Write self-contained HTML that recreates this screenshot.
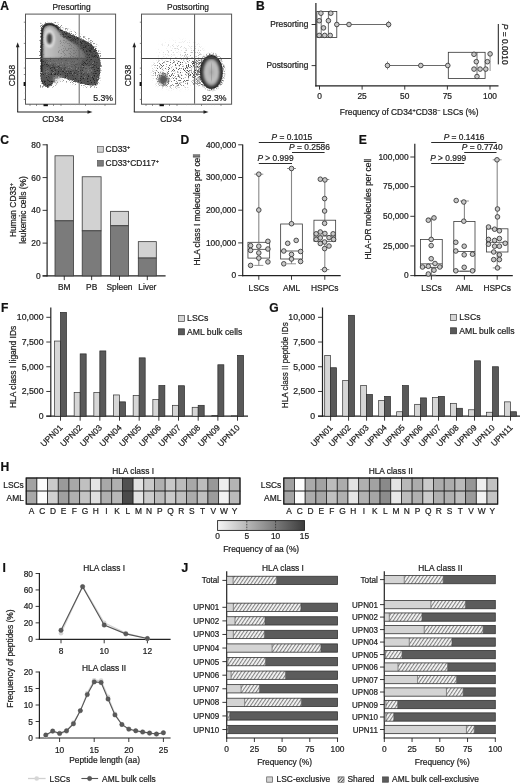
<!DOCTYPE html>
<html><head><meta charset="utf-8"><title>Figure</title>
<style>
html,body{margin:0;padding:0;background:#fff;}
body{width:520px;height:784px;overflow:hidden;}
svg{display:block;}
svg{font-family:"Liberation Sans",Arial,Helvetica,sans-serif;font-size:8.4px;fill:#1e1e1e;}
text{stroke:#1e1e1e;stroke-width:0.22px;}
</style></head><body>
<svg width="520" height="784" viewBox="0 0 520 784">
<defs><linearGradient id="cbar" x1="0" x2="1" y1="0" y2="0"><stop offset="0" stop-color="#f6f6f6"/><stop offset="1" stop-color="#3c3c3c"/></linearGradient><pattern id="hatch" width="2.95" height="12" patternUnits="userSpaceOnUse" patternTransform="rotate(34)"><rect width="2.95" height="12" fill="#f6f6f6"/><line x1="0.6" y1="0" x2="0.6" y2="12" stroke="#666" stroke-width="0.9"/></pattern><pattern id="hatch2" width="2.3" height="8" patternUnits="userSpaceOnUse" patternTransform="rotate(40)"><rect width="2.3" height="8" fill="#f0f0f0"/><line x1="0.5" y1="0" x2="0.5" y2="8" stroke="#444" stroke-width="0.9"/></pattern>
<filter id="b04" x="-20%" y="-20%" width="140%" height="140%"><feGaussianBlur stdDeviation="0.4"/></filter>
<filter id="b08" x="-20%" y="-20%" width="140%" height="140%"><feGaussianBlur stdDeviation="0.8"/></filter>
<filter id="b12" x="-30%" y="-30%" width="160%" height="160%"><feGaussianBlur stdDeviation="1.2"/></filter>
<filter id="b2" x="-30%" y="-30%" width="160%" height="160%"><feGaussianBlur stdDeviation="2"/></filter>
<filter id="grain" x="0" y="0" width="100%" height="100%">
 <feTurbulence type="fractalNoise" baseFrequency="1.1" numOctaves="2" seed="3" result="n"/>
 <feColorMatrix in="n" type="matrix" values="0 0 0 0 0  0 0 0 0 0  0 0 0 0 0  5 0 0 0 -2.1" result="na"/>
 <feComposite in="SourceGraphic" in2="na" operator="in"/>
</filter>
<filter id="grain2" x="0" y="0" width="100%" height="100%">
 <feTurbulence type="fractalNoise" baseFrequency="1.3" numOctaves="2" seed="7" result="n"/>
 <feColorMatrix in="n" type="matrix" values="0 0 0 0 0  0 0 0 0 0  0 0 0 0 0  6 0 0 0 -3.2" result="na"/>
 <feComposite in="SourceGraphic" in2="na" operator="in"/>
</filter>
<filter id="rough" x="-10%" y="-10%" width="120%" height="120%">
 <feTurbulence type="fractalNoise" baseFrequency="0.7" numOctaves="2" seed="5" result="t"/>
 <feDisplacementMap in="SourceGraphic" in2="t" scale="3" xChannelSelector="R" yChannelSelector="G"/>
</filter>
<filter id="sparse" x="0" y="0" width="100%" height="100%">
 <feTurbulence type="fractalNoise" baseFrequency="1.4" numOctaves="1" seed="11" result="n"/>
 <feColorMatrix in="n" type="matrix" values="0 0 0 0 0  0 0 0 0 0  0 0 0 0 0  9 0 0 0 -4.9" result="na"/>
 <feComposite in="SourceGraphic" in2="na" operator="in"/>
</filter>
<filter id="sparse2" x="0" y="0" width="100%" height="100%">
 <feTurbulence type="fractalNoise" baseFrequency="1.5" numOctaves="1" seed="23" result="n"/>
 <feColorMatrix in="n" type="matrix" values="0 0 0 0 0  0 0 0 0 0  0 0 0 0 0  9 0 0 0 -5.4" result="na"/>
 <feComposite in="SourceGraphic" in2="na" operator="in"/>
</filter>
<mask id="scatLow" maskUnits="userSpaceOnUse" x="140" y="30" width="70" height="70">
 <path d="M155 64 C165 58 185 57 199 59 L199 84 C188 88 172 88 160 86 C154 82 152 70 155 64 Z" fill="#ddd" filter="url(#b2)"/>
 <path d="M176 59.5 L199 59.5 L199 78 L180 74 Z" fill="#fff" filter="url(#b2)"/>
</mask>
<mask id="scatUp" maskUnits="userSpaceOnUse" x="140" y="20" width="80" height="50">
 <path d="M160 46 C170 40 188 39 202 46 L202 58 L158 58 Z" fill="#555" filter="url(#b2)"/>
 <path d="M183 51 L201 51 L201 58 L183 58 Z" fill="#bbb" filter="url(#b2)"/>
</mask>
<radialGradient id="postin" cx="0.5" cy="0.5" r="0.5">
 <stop offset="0" stop-color="#9a9a9a"/><stop offset="0.25" stop-color="#b4b4b4"/><stop offset="0.7" stop-color="#c2c2c2"/><stop offset="1" stop-color="#8a8a8a"/>
</radialGradient>
<linearGradient id="prein" x1="0" x2="1" y1="0" y2="0">
 <stop offset="0" stop-color="#c8c8c8"/><stop offset="0.3" stop-color="#b2b2b2"/><stop offset="0.65" stop-color="#929292"/><stop offset="1" stop-color="#6e6e6e"/>
</linearGradient>
<clipPath id="clipPre"><rect x="26" y="14.6" width="89.1" height="89.2"/></clipPath>
<clipPath id="clipPost"><rect x="142" y="14.6" width="89.1" height="89.2"/></clipPath>
</defs>
<rect width="520" height="784" fill="#fff"/>
<text x="0.30" y="10.00" font-size="12.1" font-weight="bold" fill="#111">A</text>

<g clip-path="url(#clipPre)">
 <path d="M41 30 C41 25 45.5 22.6 50 22.8 C54 23 57 25.5 60.5 28.5 C67 33 77 36.5 87 41.5 C95 46 100 54 100.5 63 C101 72 99 81 96 85 C89 86.5 80 83.5 72 80.5 C67 78.5 63 77 58.5 77.5 C55 79 53 85 48.5 87 C44 87.5 41 83 40.6 77 C40.2 62 40.2 45 41 30 Z" fill="none" stroke="#555" stroke-width="8" opacity="0.6" filter="url(#sparse)"/>
 <g filter="url(#rough)"><path d="M41 30 C41 25 45.5 22.6 50 22.8 C54 23 57 25.5 60.5 28.5 C67 33 77 36.5 87 41.5 C95 46 100 54 100.5 63 C101 72 99 81 96 85 C89 86.5 80 83.5 72 80.5 C67 78.5 63 77 58.5 77.5 C55 79 53 85 48.5 87 C44 87.5 41 83 40.6 77 C40.2 62 40.2 45 41 30 Z" fill="#545454"/></g>
 <path d="M41 30 C41 25 45.5 22.6 50 22.8 C54 23 57 25.5 60.5 28.5 C67 33 77 36.5 87 41.5 C95 46 100 54 100.5 63 C101 72 99 81 96 85 C89 86.5 80 83.5 72 80.5 C67 78.5 63 77 58.5 77.5 C55 79 53 85 48.5 87 C44 87.5 41 83 40.6 77 C40.2 62 40.2 45 41 30 Z" fill="#262626" filter="url(#grain2)"/>
 <path d="M46 62 C60 62 80 62 94 62 C95 70 93 76 90 80 C80 78 70 75 60 73 C52 73 48 76 46 78 Z" fill="#a0a0a0" opacity="0.55" filter="url(#sparse2)"/>
 <path d="M43.4 32 C43.4 27.4 47 25.4 50.2 25.4 C53.8 25.8 56 28 58.2 31.5 C62 36 68 40 75 44 C81 48 85 53 86.5 58.5 L43.4 58.5 Z" fill="url(#prein)" filter="url(#b12)"/>
 <path d="M60 32 C70 38 80 42 88 46.5 C93 50 96 54.5 97 59" fill="none" stroke="#2a2a2a" stroke-width="7" opacity="0.45" filter="url(#grain)"/>
 <path d="M58 36 C66 41 74 45 82 50 L84 58 L58 58 Z" fill="#444" opacity="0.3" filter="url(#sparse)"/>
 <path d="M46 59.5 C58 59.5 72 59.5 84 59.5 C82 63 76 65 68 65.5 C58 66 50 65 46 63 Z" fill="#7e7e7e" opacity="0.6" filter="url(#b12)"/>
 <ellipse cx="72" cy="67" rx="9" ry="3.5" fill="#888" opacity="0.35" filter="url(#b12)"/>
 <ellipse cx="88" cy="70" rx="5" ry="4" fill="#8a8a8a" opacity="0.4" filter="url(#b12)"/>
 <ellipse cx="47" cy="72" rx="3" ry="5" fill="#888" opacity="0.35" filter="url(#b12)"/>
 <path d="M53 77 C56 75 61 75.5 64 77.5 C61 79 58 82 55.5 85 C54 82 53 80 53 77 Z" fill="#c8c8c8" opacity="0.5" filter="url(#b12)"/>
 <ellipse cx="49.5" cy="38.8" rx="5.4" ry="9" fill="#e2e2e2" filter="url(#b12)"/>
 <ellipse cx="49.5" cy="38.6" rx="2.8" ry="5.7" fill="#444" filter="url(#b08)"/>
 <path d="M41.8 72 C41.5 55 41.6 42 42.4 31 C42.6 26.5 45.8 24.4 50 24.3 C54 24.5 56.5 26.5 59 29.5" fill="none" stroke="#1e1e1e" stroke-width="1.6" opacity="0.7" filter="url(#b04)"/>
</g>
<g clip-path="url(#clipPost)">
 <g mask="url(#scatLow)"><rect x="142" y="40" width="62" height="55" fill="#505050" filter="url(#sparse)"/></g>
 <g mask="url(#scatUp)"><rect x="150" y="25" width="60" height="36" fill="#888" filter="url(#sparse2)"/></g>
 <ellipse cx="163.4" cy="79.3" rx="6.8" ry="7.4" fill="#555" opacity="0.6" filter="url(#grain)"/>
 <ellipse cx="163.2" cy="79.5" rx="4.4" ry="5" fill="#5a5a5a" filter="url(#b08)"/>
 <path d="M195.5 61 C198 58.5 202 59.5 203 63 L203 84 C201 87 197.5 86 195.5 83 Z" fill="#333" opacity="0.55" filter="url(#grain)"/>
 <ellipse cx="211.4" cy="71.9" rx="14" ry="19.5" fill="#555" opacity="0.5" filter="url(#grain)"/>
 <ellipse cx="211.4" cy="71.9" rx="11.4" ry="17" fill="#363636" filter="url(#b04)"/>
 <ellipse cx="211.4" cy="71.9" rx="11.8" ry="17.4" fill="none" stroke="#111" stroke-width="3" opacity="0.55" filter="url(#grain2)"/>
 <ellipse cx="211.4" cy="72.2" rx="8.4" ry="13.8" fill="url(#postin)" filter="url(#b08)"/>
 <path d="M211.5 63 L211.3 81" stroke="#808080" stroke-width="1.2" filter="url(#b08)"/>
</g>

<rect x="25.50" y="14.10" width="90.10" height="90.10" fill="none" stroke="#555" stroke-width="1.0"/>
<text x="71.50" y="10.30" text-anchor="middle">Presorting</text>
<text x="113.00" y="100.60" textLength="19.81" lengthAdjust="spacingAndGlyphs" text-anchor="end" font-size="8.2">5.3%</text>
<line x1="23.80" y1="22.20" x2="25.50" y2="22.20" stroke="#555" stroke-width="0.7"/>
<line x1="23.80" y1="43.40" x2="25.50" y2="43.40" stroke="#555" stroke-width="0.7"/>
<line x1="23.80" y1="68.10" x2="25.50" y2="68.10" stroke="#555" stroke-width="0.7"/>
<line x1="23.80" y1="74.50" x2="25.50" y2="74.50" stroke="#555" stroke-width="0.7"/>
<line x1="23.80" y1="99.40" x2="25.50" y2="99.40" stroke="#555" stroke-width="0.7"/>
<line x1="24.50" y1="30.00" x2="25.50" y2="30.00" stroke="#999" stroke-width="0.5"/>
<line x1="24.50" y1="36.00" x2="25.50" y2="36.00" stroke="#999" stroke-width="0.5"/>
<line x1="24.50" y1="52.00" x2="25.50" y2="52.00" stroke="#999" stroke-width="0.5"/>
<line x1="24.50" y1="58.00" x2="25.50" y2="58.00" stroke="#999" stroke-width="0.5"/>
<line x1="24.50" y1="63.00" x2="25.50" y2="63.00" stroke="#999" stroke-width="0.5"/>
<line x1="24.50" y1="79.00" x2="25.50" y2="79.00" stroke="#999" stroke-width="0.5"/>
<line x1="24.50" y1="88.00" x2="25.50" y2="88.00" stroke="#999" stroke-width="0.5"/>
<line x1="24.50" y1="93.00" x2="25.50" y2="93.00" stroke="#999" stroke-width="0.5"/>
<line x1="30.00" y1="104.20" x2="30.00" y2="105.90" stroke="#555" stroke-width="0.7"/>
<line x1="36.50" y1="104.20" x2="36.50" y2="105.90" stroke="#555" stroke-width="0.7"/>
<line x1="53.50" y1="104.20" x2="53.50" y2="105.90" stroke="#555" stroke-width="0.7"/>
<line x1="61.00" y1="104.20" x2="61.00" y2="105.90" stroke="#555" stroke-width="0.7"/>
<line x1="85.50" y1="104.20" x2="85.50" y2="105.90" stroke="#555" stroke-width="0.7"/>
<line x1="105.00" y1="104.20" x2="105.00" y2="105.90" stroke="#555" stroke-width="0.7"/>
<line x1="39.50" y1="104.20" x2="39.50" y2="105.20" stroke="#999" stroke-width="0.5"/>
<line x1="42.50" y1="104.20" x2="42.50" y2="105.20" stroke="#999" stroke-width="0.5"/>
<line x1="49.50" y1="104.20" x2="49.50" y2="105.20" stroke="#999" stroke-width="0.5"/>
<line x1="70.50" y1="104.20" x2="70.50" y2="105.20" stroke="#999" stroke-width="0.5"/>
<line x1="75.50" y1="104.20" x2="75.50" y2="105.20" stroke="#999" stroke-width="0.5"/>
<line x1="79.50" y1="104.20" x2="79.50" y2="105.20" stroke="#999" stroke-width="0.5"/>
<line x1="90.50" y1="104.20" x2="90.50" y2="105.20" stroke="#999" stroke-width="0.5"/>
<line x1="95.50" y1="104.20" x2="95.50" y2="105.20" stroke="#999" stroke-width="0.5"/>
<line x1="98.50" y1="104.20" x2="98.50" y2="105.20" stroke="#999" stroke-width="0.5"/>
<rect x="23.60" y="82.00" width="1.90" height="4.00" fill="#111" stroke="none" stroke-width="0"/>
<rect x="43.50" y="104.20" width="4.40" height="2.00" fill="#111" stroke="none" stroke-width="0"/>
<rect x="141.50" y="14.10" width="90.10" height="90.10" fill="none" stroke="#555" stroke-width="1.0"/>
<text x="188.00" y="10.30" text-anchor="middle">Postsorting</text>
<text x="226.60" y="100.60" textLength="24.65" lengthAdjust="spacingAndGlyphs" text-anchor="end" font-size="8.2">92.3%</text>
<line x1="139.80" y1="22.20" x2="141.50" y2="22.20" stroke="#555" stroke-width="0.7"/>
<line x1="139.80" y1="43.40" x2="141.50" y2="43.40" stroke="#555" stroke-width="0.7"/>
<line x1="139.80" y1="68.10" x2="141.50" y2="68.10" stroke="#555" stroke-width="0.7"/>
<line x1="139.80" y1="74.50" x2="141.50" y2="74.50" stroke="#555" stroke-width="0.7"/>
<line x1="139.80" y1="99.40" x2="141.50" y2="99.40" stroke="#555" stroke-width="0.7"/>
<line x1="140.50" y1="30.00" x2="141.50" y2="30.00" stroke="#999" stroke-width="0.5"/>
<line x1="140.50" y1="36.00" x2="141.50" y2="36.00" stroke="#999" stroke-width="0.5"/>
<line x1="140.50" y1="52.00" x2="141.50" y2="52.00" stroke="#999" stroke-width="0.5"/>
<line x1="140.50" y1="58.00" x2="141.50" y2="58.00" stroke="#999" stroke-width="0.5"/>
<line x1="140.50" y1="63.00" x2="141.50" y2="63.00" stroke="#999" stroke-width="0.5"/>
<line x1="140.50" y1="79.00" x2="141.50" y2="79.00" stroke="#999" stroke-width="0.5"/>
<line x1="140.50" y1="88.00" x2="141.50" y2="88.00" stroke="#999" stroke-width="0.5"/>
<line x1="140.50" y1="93.00" x2="141.50" y2="93.00" stroke="#999" stroke-width="0.5"/>
<line x1="146.00" y1="104.20" x2="146.00" y2="105.90" stroke="#555" stroke-width="0.7"/>
<line x1="152.50" y1="104.20" x2="152.50" y2="105.90" stroke="#555" stroke-width="0.7"/>
<line x1="169.50" y1="104.20" x2="169.50" y2="105.90" stroke="#555" stroke-width="0.7"/>
<line x1="177.00" y1="104.20" x2="177.00" y2="105.90" stroke="#555" stroke-width="0.7"/>
<line x1="201.50" y1="104.20" x2="201.50" y2="105.90" stroke="#555" stroke-width="0.7"/>
<line x1="221.00" y1="104.20" x2="221.00" y2="105.90" stroke="#555" stroke-width="0.7"/>
<line x1="155.50" y1="104.20" x2="155.50" y2="105.20" stroke="#999" stroke-width="0.5"/>
<line x1="158.50" y1="104.20" x2="158.50" y2="105.20" stroke="#999" stroke-width="0.5"/>
<line x1="165.50" y1="104.20" x2="165.50" y2="105.20" stroke="#999" stroke-width="0.5"/>
<line x1="186.50" y1="104.20" x2="186.50" y2="105.20" stroke="#999" stroke-width="0.5"/>
<line x1="191.50" y1="104.20" x2="191.50" y2="105.20" stroke="#999" stroke-width="0.5"/>
<line x1="195.50" y1="104.20" x2="195.50" y2="105.20" stroke="#999" stroke-width="0.5"/>
<line x1="206.50" y1="104.20" x2="206.50" y2="105.20" stroke="#999" stroke-width="0.5"/>
<line x1="211.50" y1="104.20" x2="211.50" y2="105.20" stroke="#999" stroke-width="0.5"/>
<line x1="214.50" y1="104.20" x2="214.50" y2="105.20" stroke="#999" stroke-width="0.5"/>
<rect x="139.60" y="82.00" width="1.90" height="4.00" fill="#111" stroke="none" stroke-width="0"/>
<rect x="159.50" y="104.20" width="4.40" height="2.00" fill="#111" stroke="none" stroke-width="0"/>
<line x1="25.50" y1="58.50" x2="115.60" y2="58.50" stroke="#555" stroke-width="1.0"/>
<line x1="79.20" y1="14.20" x2="79.20" y2="103.70" stroke="#666" stroke-width="1.0"/>
<line x1="141.50" y1="58.50" x2="231.00" y2="58.50" stroke="#444" stroke-width="1.0"/>
<line x1="194.60" y1="14.20" x2="194.60" y2="103.70" stroke="#555" stroke-width="1.0"/>
<line x1="17.70" y1="112.00" x2="17.70" y2="46.00" stroke="#222" stroke-width="1.0"/>
<path d="M15.90 47.2 L17.70 42.2 L19.50 47.2 Z" fill="#222"/>
<line x1="17.20" y1="112.00" x2="88.50" y2="112.00" stroke="#222" stroke-width="1.0"/>
<path d="M87.50 110.2 L92.50 112 L87.50 113.8 Z" fill="#222"/>
<line x1="134.30" y1="112.00" x2="134.30" y2="46.00" stroke="#222" stroke-width="1.0"/>
<path d="M132.50 47.2 L134.30 42.2 L136.10 47.2 Z" fill="#222"/>
<line x1="133.80" y1="112.00" x2="204.50" y2="112.00" stroke="#222" stroke-width="1.0"/>
<path d="M203.50 110.2 L208.50 112 L203.50 113.8 Z" fill="#222"/>
<text x="15.00" y="75.60" text-anchor="middle" transform="rotate(-90 15.00 75.60)">CD38</text>
<text x="130.60" y="75.60" text-anchor="middle" transform="rotate(-90 130.60 75.60)">CD38</text>
<text x="53.00" y="122.00" text-anchor="middle">CD34</text>
<text x="171.00" y="122.00" text-anchor="middle">CD34</text>
<text x="256.00" y="9.80" font-size="12.1" font-weight="bold" fill="#111">B</text>
<line x1="315.90" y1="3.00" x2="315.90" y2="86.40" stroke="#222" stroke-width="1.2"/>
<line x1="315.30" y1="85.80" x2="498.50" y2="85.80" stroke="#222" stroke-width="1.2"/>
<line x1="319.50" y1="85.80" x2="319.50" y2="89.60" stroke="#222" stroke-width="0.9"/>
<text x="319.50" y="99.30" text-anchor="middle">0</text>
<line x1="362.12" y1="85.80" x2="362.12" y2="89.60" stroke="#222" stroke-width="0.9"/>
<text x="362.12" y="99.30" text-anchor="middle">25</text>
<line x1="404.75" y1="85.80" x2="404.75" y2="89.60" stroke="#222" stroke-width="0.9"/>
<text x="404.75" y="99.30" text-anchor="middle">50</text>
<line x1="447.38" y1="85.80" x2="447.38" y2="89.60" stroke="#222" stroke-width="0.9"/>
<text x="447.38" y="99.30" text-anchor="middle">75</text>
<line x1="490.00" y1="85.80" x2="490.00" y2="89.60" stroke="#222" stroke-width="0.9"/>
<text x="490.00" y="99.30" text-anchor="middle">100</text>
<line x1="311.60" y1="24.50" x2="315.90" y2="24.50" stroke="#222" stroke-width="0.9"/>
<line x1="311.60" y1="65.60" x2="315.90" y2="65.60" stroke="#222" stroke-width="0.9"/>
<text x="308.30" y="26.60" text-anchor="end">Presorting</text>
<text x="308.30" y="67.60" text-anchor="end">Postsorting</text>
<text x="409.20" y="114.60" text-anchor="middle">Frequency of CD34<tspan font-size="5.5" dy="-3">+</tspan><tspan dy="3">CD38</tspan><tspan font-size="5.5" dy="-3">&#8722;</tspan><tspan dy="3"> LSCs (%)</tspan></text>
<rect x="316.90" y="11.50" width="19.90" height="25.90" fill="none" stroke="#333" stroke-width="0.8"/>
<line x1="321.20" y1="11.50" x2="321.20" y2="37.40" stroke="#333" stroke-width="0.7"/>
<line x1="328.40" y1="11.50" x2="328.40" y2="37.40" stroke="#333" stroke-width="0.7"/>
<line x1="336.80" y1="24.50" x2="388.60" y2="24.50" stroke="#444" stroke-width="0.8"/>
<line x1="388.60" y1="20.80" x2="388.60" y2="28.20" stroke="#666" stroke-width="0.7"/>
<circle cx="320.90" cy="13.20" r="2.3" fill="#c8c8c8" stroke="#333" stroke-width="0.85"/>
<circle cx="330.80" cy="13.20" r="2.3" fill="#c8c8c8" stroke="#333" stroke-width="0.85"/>
<circle cx="319.20" cy="20.70" r="2.3" fill="#c8c8c8" stroke="#333" stroke-width="0.85"/>
<circle cx="328.40" cy="20.70" r="2.3" fill="#c8c8c8" stroke="#333" stroke-width="0.85"/>
<circle cx="336.80" cy="24.50" r="2.3" fill="#c8c8c8" stroke="#333" stroke-width="0.85"/>
<circle cx="349.00" cy="24.50" r="2.3" fill="#c8c8c8" stroke="#333" stroke-width="0.85"/>
<circle cx="323.50" cy="27.90" r="2.3" fill="#c8c8c8" stroke="#333" stroke-width="0.85"/>
<circle cx="319.20" cy="35.40" r="2.3" fill="#c8c8c8" stroke="#333" stroke-width="0.85"/>
<circle cx="324.70" cy="35.40" r="2.3" fill="#c8c8c8" stroke="#333" stroke-width="0.85"/>
<circle cx="330.20" cy="35.40" r="2.3" fill="#c8c8c8" stroke="#333" stroke-width="0.85"/>
<circle cx="388.60" cy="24.50" r="2.3" fill="#c8c8c8" stroke="#333" stroke-width="0.85"/>
<rect x="448.30" y="52.30" width="36.80" height="26.20" fill="none" stroke="#333" stroke-width="0.8"/>
<line x1="477.00" y1="52.30" x2="477.00" y2="78.50" stroke="#333" stroke-width="0.7"/>
<line x1="387.50" y1="65.50" x2="448.30" y2="65.50" stroke="#444" stroke-width="0.8"/>
<line x1="387.50" y1="61.50" x2="387.50" y2="69.50" stroke="#666" stroke-width="0.7"/>
<line x1="490.10" y1="54.00" x2="490.10" y2="71.00" stroke="#666" stroke-width="0.7"/>
<circle cx="387.50" cy="65.50" r="2.3" fill="#c8c8c8" stroke="#333" stroke-width="0.85"/>
<circle cx="420.80" cy="65.50" r="2.3" fill="#c8c8c8" stroke="#333" stroke-width="0.85"/>
<circle cx="447.80" cy="65.50" r="2.3" fill="#c8c8c8" stroke="#333" stroke-width="0.85"/>
<circle cx="474.00" cy="54.30" r="2.3" fill="#c8c8c8" stroke="#333" stroke-width="0.85"/>
<circle cx="490.10" cy="53.90" r="2.3" fill="#c8c8c8" stroke="#333" stroke-width="0.85"/>
<circle cx="476.30" cy="61.70" r="2.3" fill="#c8c8c8" stroke="#333" stroke-width="0.85"/>
<circle cx="487.40" cy="61.70" r="2.3" fill="#c8c8c8" stroke="#333" stroke-width="0.85"/>
<circle cx="474.00" cy="69.10" r="2.3" fill="#c8c8c8" stroke="#333" stroke-width="0.85"/>
<circle cx="480.10" cy="69.10" r="2.3" fill="#c8c8c8" stroke="#333" stroke-width="0.85"/>
<circle cx="485.80" cy="69.10" r="2.3" fill="#c8c8c8" stroke="#333" stroke-width="0.85"/>
<circle cx="477.00" cy="76.50" r="2.3" fill="#c8c8c8" stroke="#333" stroke-width="0.85"/>
<line x1="498.30" y1="24.00" x2="498.30" y2="64.40" stroke="#1a1a1a" stroke-width="1.0"/>
<text x="502.40" y="44.20" text-anchor="middle" transform="rotate(90 502.40 44.20)"><tspan font-style="italic">P</tspan> = 0.0010</text>
<text x="0.30" y="144.00" font-size="12.1" font-weight="bold" fill="#111">C</text>
<line x1="47.10" y1="144.30" x2="47.10" y2="276.50" stroke="#222" stroke-width="1.2"/>
<line x1="42.60" y1="275.90" x2="165.60" y2="275.90" stroke="#222" stroke-width="1.2"/>
<line x1="42.60" y1="275.90" x2="47.10" y2="275.90" stroke="#222" stroke-width="0.9"/>
<text x="40.70" y="278.90" text-anchor="end">0</text>
<line x1="42.60" y1="243.12" x2="47.10" y2="243.12" stroke="#222" stroke-width="0.9"/>
<text x="40.70" y="246.12" text-anchor="end">20</text>
<line x1="42.60" y1="210.35" x2="47.10" y2="210.35" stroke="#222" stroke-width="0.9"/>
<text x="40.70" y="213.35" text-anchor="end">40</text>
<line x1="42.60" y1="177.57" x2="47.10" y2="177.57" stroke="#222" stroke-width="0.9"/>
<text x="40.70" y="180.57" text-anchor="end">60</text>
<line x1="42.60" y1="144.80" x2="47.10" y2="144.80" stroke="#222" stroke-width="0.9"/>
<text x="40.70" y="147.80" text-anchor="end">80</text>
<rect x="55.00" y="155.78" width="18.50" height="65.06" fill="#d2d2d2" stroke="#3a3a3a" stroke-width="0.8"/>
<rect x="55.00" y="220.84" width="18.50" height="55.06" fill="#7b7b7b" stroke="#3a3a3a" stroke-width="0.8"/>
<line x1="64.25" y1="275.90" x2="64.25" y2="280.10" stroke="#222" stroke-width="0.9"/>
<text x="64.25" y="290.00" text-anchor="middle">BM</text>
<rect x="82.20" y="176.76" width="18.90" height="54.08" fill="#d2d2d2" stroke="#3a3a3a" stroke-width="0.8"/>
<rect x="82.20" y="230.83" width="18.90" height="45.07" fill="#7b7b7b" stroke="#3a3a3a" stroke-width="0.8"/>
<line x1="91.65" y1="275.90" x2="91.65" y2="280.10" stroke="#222" stroke-width="0.9"/>
<text x="91.65" y="290.00" text-anchor="middle">PB</text>
<rect x="110.60" y="211.33" width="17.80" height="14.42" fill="#d2d2d2" stroke="#3a3a3a" stroke-width="0.8"/>
<rect x="110.60" y="225.75" width="17.80" height="50.15" fill="#7b7b7b" stroke="#3a3a3a" stroke-width="0.8"/>
<line x1="119.50" y1="275.90" x2="119.50" y2="280.10" stroke="#222" stroke-width="0.9"/>
<text x="119.50" y="290.00" text-anchor="middle">Spleen</text>
<rect x="138.30" y="241.65" width="18.00" height="16.39" fill="#d2d2d2" stroke="#3a3a3a" stroke-width="0.8"/>
<rect x="138.30" y="258.04" width="18.00" height="17.86" fill="#7b7b7b" stroke="#3a3a3a" stroke-width="0.8"/>
<line x1="147.30" y1="275.90" x2="147.30" y2="280.10" stroke="#222" stroke-width="0.9"/>
<text x="147.30" y="290.00" text-anchor="middle">Liver</text>
<rect x="97.50" y="146.60" width="5.80" height="5.60" fill="#d2d2d2" stroke="#555" stroke-width="0.7"/>
<rect x="97.50" y="160.50" width="5.80" height="5.60" fill="#7b7b7b" stroke="#555" stroke-width="0.7"/>
<text x="105.60" y="152.30">CD33<tspan font-size="5.5" dy="-3">+</tspan></text>
<text x="105.60" y="166.20">CD33<tspan font-size="5.5" dy="-3">+</tspan><tspan dy="3">CD117</tspan><tspan font-size="5.5" dy="-3">+</tspan></text>
<text x="16.00" y="210.00" text-anchor="middle" transform="rotate(-90 16.00 210.00)">Human CD33<tspan font-size="5.5" dy="-3">+</tspan></text>
<text x="26.40" y="210.00" text-anchor="middle" transform="rotate(-90 26.40 210.00)">leukemic cells (%)</text>
<text x="180.40" y="144.00" font-size="12.1" font-weight="bold" fill="#111">D</text>
<line x1="242.70" y1="144.50" x2="242.70" y2="276.20" stroke="#222" stroke-width="1.2"/>
<line x1="242.10" y1="275.60" x2="340.70" y2="275.60" stroke="#222" stroke-width="1.2"/>
<line x1="238.20" y1="275.60" x2="242.70" y2="275.60" stroke="#222" stroke-width="0.9"/>
<text x="236.20" y="278.40" text-anchor="end">0</text>
<line x1="238.20" y1="242.90" x2="242.70" y2="242.90" stroke="#222" stroke-width="0.9"/>
<text x="236.20" y="245.70" text-anchor="end">100,000</text>
<line x1="238.20" y1="210.20" x2="242.70" y2="210.20" stroke="#222" stroke-width="0.9"/>
<text x="236.20" y="213.00" text-anchor="end">200,000</text>
<line x1="238.20" y1="177.50" x2="242.70" y2="177.50" stroke="#222" stroke-width="0.9"/>
<text x="236.20" y="180.30" text-anchor="end">300,000</text>
<line x1="238.20" y1="144.80" x2="242.70" y2="144.80" stroke="#222" stroke-width="0.9"/>
<text x="236.20" y="147.60" text-anchor="end">400,000</text>
<text x="200.50" y="209.80" textLength="111.58" lengthAdjust="spacingAndGlyphs" text-anchor="middle" transform="rotate(-90 200.50 209.80)">HLA class I molecules per cell</text>
<line x1="258.80" y1="174.20" x2="258.80" y2="242.30" stroke="#888" stroke-width="1.1"/>
<line x1="258.80" y1="258.10" x2="258.80" y2="265.40" stroke="#888" stroke-width="1.1"/>
<line x1="254.30" y1="174.20" x2="263.30" y2="174.20" stroke="#888" stroke-width="0.9"/>
<line x1="254.30" y1="265.40" x2="263.30" y2="265.40" stroke="#888" stroke-width="0.9"/>
<rect x="247.95" y="242.30" width="21.70" height="15.80" fill="none" stroke="#3a3a3a" stroke-width="0.8"/>
<line x1="247.95" y1="249.40" x2="269.65" y2="249.40" stroke="#3a3a3a" stroke-width="0.8"/>
<circle cx="258.80" cy="210.00" r="2.3" fill="#c8c8c8" stroke="#333" stroke-width="0.85"/>
<circle cx="267.90" cy="241.30" r="2.3" fill="#c8c8c8" stroke="#333" stroke-width="0.85"/>
<circle cx="250.60" cy="245.60" r="2.3" fill="#c8c8c8" stroke="#333" stroke-width="0.85"/>
<circle cx="258.80" cy="246.20" r="2.3" fill="#c8c8c8" stroke="#333" stroke-width="0.85"/>
<circle cx="267.90" cy="249.00" r="2.3" fill="#c8c8c8" stroke="#333" stroke-width="0.85"/>
<circle cx="250.60" cy="250.40" r="2.3" fill="#c8c8c8" stroke="#333" stroke-width="0.85"/>
<circle cx="258.80" cy="252.90" r="2.3" fill="#c8c8c8" stroke="#333" stroke-width="0.85"/>
<circle cx="258.80" cy="258.10" r="2.3" fill="#c8c8c8" stroke="#333" stroke-width="0.85"/>
<circle cx="267.90" cy="261.90" r="2.3" fill="#c8c8c8" stroke="#333" stroke-width="0.85"/>
<circle cx="250.60" cy="265.40" r="2.3" fill="#c8c8c8" stroke="#333" stroke-width="0.85"/>
<circle cx="258.80" cy="174.20" r="2.3" fill="#c8c8c8" stroke="#333" stroke-width="0.85"/>
<line x1="258.80" y1="275.60" x2="258.80" y2="279.80" stroke="#222" stroke-width="0.9"/>
<text x="258.80" y="290.90" text-anchor="middle">LSCs</text>
<line x1="291.50" y1="168.50" x2="291.50" y2="224.00" stroke="#888" stroke-width="1.1"/>
<line x1="291.50" y1="259.00" x2="291.50" y2="263.80" stroke="#888" stroke-width="1.1"/>
<line x1="287.00" y1="168.50" x2="296.00" y2="168.50" stroke="#888" stroke-width="0.9"/>
<line x1="287.00" y1="263.80" x2="296.00" y2="263.80" stroke="#888" stroke-width="0.9"/>
<rect x="280.65" y="224.00" width="21.70" height="35.00" fill="none" stroke="#3a3a3a" stroke-width="0.8"/>
<line x1="280.65" y1="251.00" x2="302.35" y2="251.00" stroke="#3a3a3a" stroke-width="0.8"/>
<circle cx="291.50" cy="223.70" r="2.3" fill="#c8c8c8" stroke="#333" stroke-width="0.85"/>
<circle cx="287.70" cy="243.30" r="2.3" fill="#c8c8c8" stroke="#333" stroke-width="0.85"/>
<circle cx="296.20" cy="240.40" r="2.3" fill="#c8c8c8" stroke="#333" stroke-width="0.85"/>
<circle cx="283.80" cy="251.00" r="2.3" fill="#c8c8c8" stroke="#333" stroke-width="0.85"/>
<circle cx="300.60" cy="251.50" r="2.3" fill="#c8c8c8" stroke="#333" stroke-width="0.85"/>
<circle cx="291.50" cy="254.40" r="2.3" fill="#c8c8c8" stroke="#333" stroke-width="0.85"/>
<circle cx="291.50" cy="259.00" r="2.3" fill="#c8c8c8" stroke="#333" stroke-width="0.85"/>
<circle cx="283.80" cy="263.80" r="2.3" fill="#c8c8c8" stroke="#333" stroke-width="0.85"/>
<circle cx="300.60" cy="261.50" r="2.3" fill="#c8c8c8" stroke="#333" stroke-width="0.85"/>
<circle cx="291.50" cy="168.50" r="2.3" fill="#c8c8c8" stroke="#333" stroke-width="0.85"/>
<line x1="291.50" y1="275.60" x2="291.50" y2="279.80" stroke="#222" stroke-width="0.9"/>
<text x="291.50" y="290.90" text-anchor="middle">AML</text>
<line x1="324.80" y1="179.50" x2="324.80" y2="220.20" stroke="#888" stroke-width="1.1"/>
<line x1="324.80" y1="241.30" x2="324.80" y2="269.60" stroke="#888" stroke-width="1.1"/>
<line x1="320.30" y1="179.50" x2="329.30" y2="179.50" stroke="#888" stroke-width="0.9"/>
<line x1="320.30" y1="269.60" x2="329.30" y2="269.60" stroke="#888" stroke-width="0.9"/>
<rect x="313.95" y="220.20" width="21.70" height="21.10" fill="none" stroke="#3a3a3a" stroke-width="0.8"/>
<line x1="313.95" y1="236.00" x2="335.65" y2="236.00" stroke="#3a3a3a" stroke-width="0.8"/>
<circle cx="320.30" cy="179.20" r="2.3" fill="#c8c8c8" stroke="#333" stroke-width="0.85"/>
<circle cx="324.90" cy="179.90" r="2.3" fill="#c8c8c8" stroke="#333" stroke-width="0.85"/>
<circle cx="324.60" cy="198.60" r="2.3" fill="#c8c8c8" stroke="#333" stroke-width="0.85"/>
<circle cx="324.60" cy="211.00" r="2.3" fill="#c8c8c8" stroke="#333" stroke-width="0.85"/>
<circle cx="324.60" cy="223.30" r="2.3" fill="#c8c8c8" stroke="#333" stroke-width="0.85"/>
<circle cx="316.20" cy="233.80" r="2.3" fill="#c8c8c8" stroke="#333" stroke-width="0.85"/>
<circle cx="320.30" cy="232.00" r="2.3" fill="#c8c8c8" stroke="#333" stroke-width="0.85"/>
<circle cx="324.90" cy="233.50" r="2.3" fill="#c8c8c8" stroke="#333" stroke-width="0.85"/>
<circle cx="333.10" cy="233.80" r="2.3" fill="#c8c8c8" stroke="#333" stroke-width="0.85"/>
<circle cx="316.20" cy="239.40" r="2.3" fill="#c8c8c8" stroke="#333" stroke-width="0.85"/>
<circle cx="320.30" cy="237.90" r="2.3" fill="#c8c8c8" stroke="#333" stroke-width="0.85"/>
<circle cx="329.00" cy="237.60" r="2.3" fill="#c8c8c8" stroke="#333" stroke-width="0.85"/>
<circle cx="333.60" cy="239.40" r="2.3" fill="#c8c8c8" stroke="#333" stroke-width="0.85"/>
<circle cx="324.60" cy="242.00" r="2.3" fill="#c8c8c8" stroke="#333" stroke-width="0.85"/>
<circle cx="320.30" cy="243.50" r="2.3" fill="#c8c8c8" stroke="#333" stroke-width="0.85"/>
<circle cx="329.00" cy="246.00" r="2.3" fill="#c8c8c8" stroke="#333" stroke-width="0.85"/>
<circle cx="324.60" cy="248.60" r="2.3" fill="#c8c8c8" stroke="#333" stroke-width="0.85"/>
<circle cx="324.60" cy="269.60" r="2.3" fill="#c8c8c8" stroke="#333" stroke-width="0.85"/>
<line x1="324.80" y1="275.60" x2="324.80" y2="279.80" stroke="#222" stroke-width="0.9"/>
<text x="324.80" y="290.90" text-anchor="middle">HSPCs</text>
<line x1="258.80" y1="142.50" x2="324.60" y2="142.50" stroke="#2a2a2a" stroke-width="1.0"/>
<text x="291.90" y="139.60" text-anchor="middle"><tspan font-style="italic">P</tspan> = 0.1015</text>
<line x1="292.00" y1="152.50" x2="324.60" y2="152.50" stroke="#2a2a2a" stroke-width="1.0"/>
<text x="309.50" y="149.60" text-anchor="middle"><tspan font-style="italic">P</tspan> = 0.2586</text>
<line x1="258.80" y1="163.50" x2="292.00" y2="163.50" stroke="#2a2a2a" stroke-width="1.0"/>
<text x="275.50" y="160.60" text-anchor="middle"><tspan font-style="italic">P</tspan> &gt; 0.999</text>
<text x="358.80" y="144.00" font-size="12.1" font-weight="bold" fill="#111">E</text>
<line x1="414.80" y1="143.80" x2="414.80" y2="276.20" stroke="#222" stroke-width="1.2"/>
<line x1="414.20" y1="275.60" x2="512.80" y2="275.60" stroke="#222" stroke-width="1.2"/>
<line x1="410.30" y1="275.60" x2="414.80" y2="275.60" stroke="#222" stroke-width="0.9"/>
<text x="408.70" y="278.40" text-anchor="end">0</text>
<line x1="410.30" y1="245.95" x2="414.80" y2="245.95" stroke="#222" stroke-width="0.9"/>
<text x="408.70" y="248.75" text-anchor="end">25,000</text>
<line x1="410.30" y1="216.30" x2="414.80" y2="216.30" stroke="#222" stroke-width="0.9"/>
<text x="408.70" y="219.10" text-anchor="end">50,000</text>
<line x1="410.30" y1="186.65" x2="414.80" y2="186.65" stroke="#222" stroke-width="0.9"/>
<text x="408.70" y="189.45" text-anchor="end">75,000</text>
<line x1="410.30" y1="157.00" x2="414.80" y2="157.00" stroke="#222" stroke-width="0.9"/>
<text x="408.70" y="159.80" text-anchor="end">100,000</text>
<text x="371.00" y="209.20" textLength="100.84" lengthAdjust="spacingAndGlyphs" text-anchor="middle" transform="rotate(-90 371.00 209.20)">HLA-DR molecules per cell</text>
<line x1="431.40" y1="218.30" x2="431.40" y2="239.40" stroke="#888" stroke-width="1.1"/>
<line x1="431.40" y1="267.30" x2="431.40" y2="275.00" stroke="#888" stroke-width="1.1"/>
<line x1="426.90" y1="218.30" x2="435.90" y2="218.30" stroke="#888" stroke-width="0.9"/>
<line x1="426.90" y1="275.00" x2="435.90" y2="275.00" stroke="#888" stroke-width="0.9"/>
<rect x="420.55" y="239.40" width="21.70" height="27.90" fill="none" stroke="#3a3a3a" stroke-width="0.8"/>
<line x1="420.55" y1="263.80" x2="442.25" y2="263.80" stroke="#3a3a3a" stroke-width="0.8"/>
<circle cx="428.30" cy="220.20" r="2.3" fill="#c8c8c8" stroke="#333" stroke-width="0.85"/>
<circle cx="434.00" cy="217.90" r="2.3" fill="#c8c8c8" stroke="#333" stroke-width="0.85"/>
<circle cx="431.20" cy="239.40" r="2.3" fill="#c8c8c8" stroke="#333" stroke-width="0.85"/>
<circle cx="431.20" cy="245.60" r="2.3" fill="#c8c8c8" stroke="#333" stroke-width="0.85"/>
<circle cx="431.20" cy="258.70" r="2.3" fill="#c8c8c8" stroke="#333" stroke-width="0.85"/>
<circle cx="435.00" cy="263.50" r="2.3" fill="#c8c8c8" stroke="#333" stroke-width="0.85"/>
<circle cx="422.50" cy="267.00" r="2.3" fill="#c8c8c8" stroke="#333" stroke-width="0.85"/>
<circle cx="428.30" cy="266.30" r="2.3" fill="#c8c8c8" stroke="#333" stroke-width="0.85"/>
<circle cx="439.80" cy="267.00" r="2.3" fill="#c8c8c8" stroke="#333" stroke-width="0.85"/>
<circle cx="434.00" cy="270.20" r="2.3" fill="#c8c8c8" stroke="#333" stroke-width="0.85"/>
<circle cx="428.30" cy="274.00" r="2.3" fill="#c8c8c8" stroke="#333" stroke-width="0.85"/>
<line x1="431.40" y1="275.60" x2="431.40" y2="279.80" stroke="#222" stroke-width="0.9"/>
<text x="431.40" y="290.90" text-anchor="middle">LSCs</text>
<line x1="464.40" y1="201.00" x2="464.40" y2="221.50" stroke="#888" stroke-width="1.1"/>
<line x1="464.40" y1="271.20" x2="464.40" y2="271.20" stroke="#888" stroke-width="1.1"/>
<line x1="459.90" y1="201.00" x2="468.90" y2="201.00" stroke="#888" stroke-width="0.9"/>
<line x1="459.90" y1="271.20" x2="468.90" y2="271.20" stroke="#888" stroke-width="0.9"/>
<rect x="453.80" y="221.50" width="21.20" height="49.70" fill="none" stroke="#3a3a3a" stroke-width="0.8"/>
<line x1="453.80" y1="251.50" x2="475.00" y2="251.50" stroke="#3a3a3a" stroke-width="0.8"/>
<circle cx="456.20" cy="200.50" r="2.3" fill="#c8c8c8" stroke="#333" stroke-width="0.85"/>
<circle cx="463.80" cy="202.00" r="2.3" fill="#c8c8c8" stroke="#333" stroke-width="0.85"/>
<circle cx="463.80" cy="221.20" r="2.3" fill="#c8c8c8" stroke="#333" stroke-width="0.85"/>
<circle cx="455.80" cy="242.30" r="2.3" fill="#c8c8c8" stroke="#333" stroke-width="0.85"/>
<circle cx="464.20" cy="246.20" r="2.3" fill="#c8c8c8" stroke="#333" stroke-width="0.85"/>
<circle cx="455.80" cy="251.00" r="2.3" fill="#c8c8c8" stroke="#333" stroke-width="0.85"/>
<circle cx="464.20" cy="254.80" r="2.3" fill="#c8c8c8" stroke="#333" stroke-width="0.85"/>
<circle cx="472.50" cy="254.20" r="2.3" fill="#c8c8c8" stroke="#333" stroke-width="0.85"/>
<circle cx="455.80" cy="270.80" r="2.3" fill="#c8c8c8" stroke="#333" stroke-width="0.85"/>
<circle cx="464.20" cy="267.30" r="2.3" fill="#c8c8c8" stroke="#333" stroke-width="0.85"/>
<circle cx="472.50" cy="270.80" r="2.3" fill="#c8c8c8" stroke="#333" stroke-width="0.85"/>
<line x1="464.40" y1="275.60" x2="464.40" y2="279.80" stroke="#222" stroke-width="0.9"/>
<text x="464.40" y="290.90" text-anchor="middle">AML</text>
<line x1="497.20" y1="159.80" x2="497.20" y2="228.80" stroke="#888" stroke-width="1.1"/>
<line x1="497.20" y1="252.00" x2="497.20" y2="267.90" stroke="#888" stroke-width="1.1"/>
<line x1="492.70" y1="159.80" x2="501.70" y2="159.80" stroke="#888" stroke-width="0.9"/>
<line x1="492.70" y1="267.90" x2="501.70" y2="267.90" stroke="#888" stroke-width="0.9"/>
<rect x="486.45" y="228.80" width="21.50" height="23.20" fill="none" stroke="#3a3a3a" stroke-width="0.8"/>
<line x1="486.45" y1="242.30" x2="507.95" y2="242.30" stroke="#3a3a3a" stroke-width="0.8"/>
<circle cx="497.00" cy="159.80" r="2.3" fill="#c8c8c8" stroke="#333" stroke-width="0.85"/>
<circle cx="497.50" cy="209.00" r="2.3" fill="#c8c8c8" stroke="#333" stroke-width="0.85"/>
<circle cx="497.50" cy="216.90" r="2.3" fill="#c8c8c8" stroke="#333" stroke-width="0.85"/>
<circle cx="488.50" cy="227.00" r="2.3" fill="#c8c8c8" stroke="#333" stroke-width="0.85"/>
<circle cx="494.60" cy="229.20" r="2.3" fill="#c8c8c8" stroke="#333" stroke-width="0.85"/>
<circle cx="499.40" cy="230.80" r="2.3" fill="#c8c8c8" stroke="#333" stroke-width="0.85"/>
<circle cx="488.50" cy="239.40" r="2.3" fill="#c8c8c8" stroke="#333" stroke-width="0.85"/>
<circle cx="494.60" cy="240.40" r="2.3" fill="#c8c8c8" stroke="#333" stroke-width="0.85"/>
<circle cx="499.40" cy="238.50" r="2.3" fill="#c8c8c8" stroke="#333" stroke-width="0.85"/>
<circle cx="505.20" cy="243.30" r="2.3" fill="#c8c8c8" stroke="#333" stroke-width="0.85"/>
<circle cx="488.50" cy="244.20" r="2.3" fill="#c8c8c8" stroke="#333" stroke-width="0.85"/>
<circle cx="494.60" cy="246.20" r="2.3" fill="#c8c8c8" stroke="#333" stroke-width="0.85"/>
<circle cx="499.40" cy="246.20" r="2.3" fill="#c8c8c8" stroke="#333" stroke-width="0.85"/>
<circle cx="493.70" cy="252.00" r="2.3" fill="#c8c8c8" stroke="#333" stroke-width="0.85"/>
<circle cx="499.40" cy="254.80" r="2.3" fill="#c8c8c8" stroke="#333" stroke-width="0.85"/>
<circle cx="493.70" cy="259.60" r="2.3" fill="#c8c8c8" stroke="#333" stroke-width="0.85"/>
<circle cx="499.40" cy="259.60" r="2.3" fill="#c8c8c8" stroke="#333" stroke-width="0.85"/>
<circle cx="497.50" cy="267.90" r="2.3" fill="#c8c8c8" stroke="#333" stroke-width="0.85"/>
<line x1="497.20" y1="275.60" x2="497.20" y2="279.80" stroke="#222" stroke-width="0.9"/>
<text x="497.20" y="290.90" text-anchor="middle">HSPCs</text>
<line x1="431.20" y1="142.50" x2="496.50" y2="142.50" stroke="#2a2a2a" stroke-width="1.0"/>
<text x="464.10" y="139.60" text-anchor="middle"><tspan font-style="italic">P</tspan> = 0.1416</text>
<line x1="464.20" y1="152.50" x2="496.50" y2="152.50" stroke="#2a2a2a" stroke-width="1.0"/>
<text x="482.20" y="149.60" text-anchor="middle"><tspan font-style="italic">P</tspan> = 0.7740</text>
<line x1="431.20" y1="163.50" x2="464.20" y2="163.50" stroke="#2a2a2a" stroke-width="1.0"/>
<text x="448.20" y="160.60" text-anchor="middle"><tspan font-style="italic">P</tspan> &gt; 0.999</text>
<text x="1.00" y="311.60" font-size="12.1" font-weight="bold" fill="#111">F</text>
<line x1="50.80" y1="307.50" x2="50.80" y2="416.80" stroke="#222" stroke-width="1.2"/>
<line x1="46.30" y1="416.20" x2="248.00" y2="416.20" stroke="#222" stroke-width="1.2"/>
<line x1="46.30" y1="416.20" x2="50.80" y2="416.20" stroke="#222" stroke-width="0.9"/>
<text x="43.60" y="419.20" textLength="4.86" lengthAdjust="spacingAndGlyphs" text-anchor="end">0</text>
<line x1="46.30" y1="391.48" x2="50.80" y2="391.48" stroke="#222" stroke-width="0.9"/>
<text x="43.60" y="394.48" textLength="21.86" lengthAdjust="spacingAndGlyphs" text-anchor="end">2,500</text>
<line x1="46.30" y1="366.75" x2="50.80" y2="366.75" stroke="#222" stroke-width="0.9"/>
<text x="43.60" y="369.75" textLength="21.86" lengthAdjust="spacingAndGlyphs" text-anchor="end">5,000</text>
<line x1="46.30" y1="342.02" x2="50.80" y2="342.02" stroke="#222" stroke-width="0.9"/>
<text x="43.60" y="345.02" textLength="21.86" lengthAdjust="spacingAndGlyphs" text-anchor="end">7,500</text>
<line x1="46.30" y1="317.30" x2="50.80" y2="317.30" stroke="#222" stroke-width="0.9"/>
<text x="43.60" y="320.30" textLength="26.72" lengthAdjust="spacingAndGlyphs" text-anchor="end">10,000</text>
<text x="15.60" y="366.90" textLength="82.30" lengthAdjust="spacingAndGlyphs" text-anchor="middle" transform="rotate(-90 15.60 366.90)">HLA class I ligand IDs</text>
<rect x="54.50" y="341.04" width="6.00" height="75.16" fill="#d6d6d6" stroke="#333" stroke-width="0.7"/>
<rect x="60.50" y="312.36" width="6.00" height="103.84" fill="#595959" stroke="#2a2a2a" stroke-width="0.7"/>
<line x1="60.50" y1="416.20" x2="60.50" y2="420.70" stroke="#222" stroke-width="0.9"/>
<text x="63.20" y="428.20" text-anchor="end" transform="rotate(-45 63.20 428.20)">UPN01</text>
<rect x="74.17" y="392.46" width="6.00" height="23.74" fill="#d6d6d6" stroke="#333" stroke-width="0.7"/>
<rect x="80.17" y="353.89" width="6.00" height="62.31" fill="#595959" stroke="#2a2a2a" stroke-width="0.7"/>
<line x1="80.17" y1="416.20" x2="80.17" y2="420.70" stroke="#222" stroke-width="0.9"/>
<text x="82.87" y="428.20" text-anchor="end" transform="rotate(-45 82.87 428.20)">UPN02</text>
<rect x="93.84" y="392.46" width="6.00" height="23.74" fill="#d6d6d6" stroke="#333" stroke-width="0.7"/>
<rect x="99.84" y="350.93" width="6.00" height="65.27" fill="#595959" stroke="#2a2a2a" stroke-width="0.7"/>
<line x1="99.84" y1="416.20" x2="99.84" y2="420.70" stroke="#222" stroke-width="0.9"/>
<text x="102.54" y="428.20" text-anchor="end" transform="rotate(-45 102.54 428.20)">UPN03</text>
<rect x="113.51" y="394.94" width="6.00" height="21.26" fill="#d6d6d6" stroke="#333" stroke-width="0.7"/>
<rect x="119.51" y="401.86" width="6.00" height="14.34" fill="#595959" stroke="#2a2a2a" stroke-width="0.7"/>
<line x1="119.51" y1="416.20" x2="119.51" y2="420.70" stroke="#222" stroke-width="0.9"/>
<text x="122.21" y="428.20" text-anchor="end" transform="rotate(-45 122.21 428.20)">UPN04</text>
<rect x="133.18" y="395.43" width="6.00" height="20.77" fill="#d6d6d6" stroke="#333" stroke-width="0.7"/>
<rect x="139.18" y="357.85" width="6.00" height="58.35" fill="#595959" stroke="#2a2a2a" stroke-width="0.7"/>
<line x1="139.18" y1="416.20" x2="139.18" y2="420.70" stroke="#222" stroke-width="0.9"/>
<text x="141.88" y="428.20" text-anchor="end" transform="rotate(-45 141.88 428.20)">UPN05</text>
<rect x="152.85" y="399.39" width="6.00" height="16.81" fill="#d6d6d6" stroke="#333" stroke-width="0.7"/>
<rect x="158.85" y="385.54" width="6.00" height="30.66" fill="#595959" stroke="#2a2a2a" stroke-width="0.7"/>
<line x1="158.85" y1="416.20" x2="158.85" y2="420.70" stroke="#222" stroke-width="0.9"/>
<text x="161.55" y="428.20" text-anchor="end" transform="rotate(-45 161.55 428.20)">UPN06</text>
<rect x="172.52" y="405.32" width="6.00" height="10.88" fill="#d6d6d6" stroke="#333" stroke-width="0.7"/>
<rect x="178.52" y="385.74" width="6.00" height="30.46" fill="#595959" stroke="#2a2a2a" stroke-width="0.7"/>
<line x1="178.52" y1="416.20" x2="178.52" y2="420.70" stroke="#222" stroke-width="0.9"/>
<text x="181.22" y="428.20" text-anchor="end" transform="rotate(-45 181.22 428.20)">UPN07</text>
<rect x="192.19" y="407.30" width="6.00" height="8.90" fill="#d6d6d6" stroke="#333" stroke-width="0.7"/>
<rect x="198.19" y="405.32" width="6.00" height="10.88" fill="#595959" stroke="#2a2a2a" stroke-width="0.7"/>
<line x1="198.19" y1="416.20" x2="198.19" y2="420.70" stroke="#222" stroke-width="0.9"/>
<text x="200.89" y="428.20" text-anchor="end" transform="rotate(-45 200.89 428.20)">UPN08</text>
<rect x="211.86" y="415.61" width="6.00" height="0.59" fill="#d6d6d6" stroke="#333" stroke-width="0.7"/>
<rect x="217.86" y="364.77" width="6.00" height="51.43" fill="#595959" stroke="#2a2a2a" stroke-width="0.7"/>
<line x1="217.86" y1="416.20" x2="217.86" y2="420.70" stroke="#222" stroke-width="0.9"/>
<text x="220.56" y="428.20" text-anchor="end" transform="rotate(-45 220.56 428.20)">UPN09</text>
<rect x="231.53" y="415.80" width="6.00" height="0.40" fill="#d6d6d6" stroke="#333" stroke-width="0.7"/>
<rect x="237.53" y="355.38" width="6.00" height="60.82" fill="#595959" stroke="#2a2a2a" stroke-width="0.7"/>
<line x1="237.53" y1="416.20" x2="237.53" y2="420.70" stroke="#222" stroke-width="0.9"/>
<text x="240.23" y="428.20" text-anchor="end" transform="rotate(-45 240.23 428.20)">UPN10</text>
<rect x="178.40" y="315.40" width="6.00" height="6.00" fill="#d6d6d6" stroke="#444" stroke-width="0.7"/>
<rect x="178.40" y="328.80" width="6.00" height="6.00" fill="#595959" stroke="#333" stroke-width="0.7"/>
<text x="187.10" y="321.00" textLength="21.16" lengthAdjust="spacingAndGlyphs">LSCs</text>
<text x="187.10" y="334.60" textLength="55.19" lengthAdjust="spacingAndGlyphs">AML bulk cells</text>
<text x="269.30" y="311.60" font-size="12.1" font-weight="bold" fill="#111">G</text>
<line x1="322.50" y1="307.50" x2="322.50" y2="416.80" stroke="#222" stroke-width="1.2"/>
<line x1="318.00" y1="416.20" x2="520.00" y2="416.20" stroke="#222" stroke-width="1.2"/>
<line x1="318.00" y1="416.20" x2="322.50" y2="416.20" stroke="#222" stroke-width="0.9"/>
<text x="315.10" y="419.20" textLength="4.86" lengthAdjust="spacingAndGlyphs" text-anchor="end">0</text>
<line x1="318.00" y1="391.48" x2="322.50" y2="391.48" stroke="#222" stroke-width="0.9"/>
<text x="315.10" y="394.48" textLength="21.86" lengthAdjust="spacingAndGlyphs" text-anchor="end">2,500</text>
<line x1="318.00" y1="366.75" x2="322.50" y2="366.75" stroke="#222" stroke-width="0.9"/>
<text x="315.10" y="369.75" textLength="21.86" lengthAdjust="spacingAndGlyphs" text-anchor="end">5,000</text>
<line x1="318.00" y1="342.02" x2="322.50" y2="342.02" stroke="#222" stroke-width="0.9"/>
<text x="315.10" y="345.02" textLength="21.86" lengthAdjust="spacingAndGlyphs" text-anchor="end">7,500</text>
<line x1="318.00" y1="317.30" x2="322.50" y2="317.30" stroke="#222" stroke-width="0.9"/>
<text x="315.10" y="320.30" textLength="26.72" lengthAdjust="spacingAndGlyphs" text-anchor="end">10,000</text>
<text x="287.60" y="365.20" textLength="85.90" lengthAdjust="spacingAndGlyphs" text-anchor="middle" transform="rotate(-90 287.60 365.20)">HLA class II peptide IDs</text>
<rect x="324.70" y="355.38" width="5.90" height="60.82" fill="#d6d6d6" stroke="#333" stroke-width="0.7"/>
<rect x="330.60" y="367.74" width="5.90" height="48.46" fill="#595959" stroke="#2a2a2a" stroke-width="0.7"/>
<line x1="330.60" y1="416.20" x2="330.60" y2="420.70" stroke="#222" stroke-width="0.9"/>
<text x="333.30" y="428.20" text-anchor="end" transform="rotate(-45 333.30 428.20)">UPN01</text>
<rect x="342.69" y="380.60" width="5.90" height="35.60" fill="#d6d6d6" stroke="#333" stroke-width="0.7"/>
<rect x="348.59" y="315.32" width="5.90" height="100.88" fill="#595959" stroke="#2a2a2a" stroke-width="0.7"/>
<line x1="348.59" y1="416.20" x2="348.59" y2="420.70" stroke="#222" stroke-width="0.9"/>
<text x="351.29" y="428.20" text-anchor="end" transform="rotate(-45 351.29 428.20)">UPN02</text>
<rect x="360.68" y="385.54" width="5.90" height="30.66" fill="#d6d6d6" stroke="#333" stroke-width="0.7"/>
<rect x="366.58" y="394.44" width="5.90" height="21.76" fill="#595959" stroke="#2a2a2a" stroke-width="0.7"/>
<line x1="366.58" y1="416.20" x2="366.58" y2="420.70" stroke="#222" stroke-width="0.9"/>
<text x="369.28" y="428.20" text-anchor="end" transform="rotate(-45 369.28 428.20)">UPN03</text>
<rect x="378.67" y="400.38" width="5.90" height="15.82" fill="#d6d6d6" stroke="#333" stroke-width="0.7"/>
<rect x="384.57" y="396.42" width="5.90" height="19.78" fill="#595959" stroke="#2a2a2a" stroke-width="0.7"/>
<line x1="384.57" y1="416.20" x2="384.57" y2="420.70" stroke="#222" stroke-width="0.9"/>
<text x="387.27" y="428.20" text-anchor="end" transform="rotate(-45 387.27 428.20)">UPN04</text>
<rect x="396.66" y="411.75" width="5.90" height="4.45" fill="#d6d6d6" stroke="#333" stroke-width="0.7"/>
<rect x="402.56" y="385.54" width="5.90" height="30.66" fill="#595959" stroke="#2a2a2a" stroke-width="0.7"/>
<line x1="402.56" y1="416.20" x2="402.56" y2="420.70" stroke="#222" stroke-width="0.9"/>
<text x="405.26" y="428.20" text-anchor="end" transform="rotate(-45 405.26 428.20)">UPN05</text>
<rect x="414.65" y="404.33" width="5.90" height="11.87" fill="#d6d6d6" stroke="#333" stroke-width="0.7"/>
<rect x="420.55" y="397.90" width="5.90" height="18.30" fill="#595959" stroke="#2a2a2a" stroke-width="0.7"/>
<line x1="420.55" y1="416.20" x2="420.55" y2="420.70" stroke="#222" stroke-width="0.9"/>
<text x="423.25" y="428.20" text-anchor="end" transform="rotate(-45 423.25 428.20)">UPN06</text>
<rect x="432.64" y="397.41" width="5.90" height="18.79" fill="#d6d6d6" stroke="#333" stroke-width="0.7"/>
<rect x="438.54" y="396.42" width="5.90" height="19.78" fill="#595959" stroke="#2a2a2a" stroke-width="0.7"/>
<line x1="438.54" y1="416.20" x2="438.54" y2="420.70" stroke="#222" stroke-width="0.9"/>
<text x="441.24" y="428.20" text-anchor="end" transform="rotate(-45 441.24 428.20)">UPN07</text>
<rect x="450.63" y="403.34" width="5.90" height="12.86" fill="#d6d6d6" stroke="#333" stroke-width="0.7"/>
<rect x="456.53" y="408.29" width="5.90" height="7.91" fill="#595959" stroke="#2a2a2a" stroke-width="0.7"/>
<line x1="456.53" y1="416.20" x2="456.53" y2="420.70" stroke="#222" stroke-width="0.9"/>
<text x="459.23" y="428.20" text-anchor="end" transform="rotate(-45 459.23 428.20)">UPN08</text>
<rect x="468.62" y="409.77" width="5.90" height="6.43" fill="#d6d6d6" stroke="#333" stroke-width="0.7"/>
<rect x="474.52" y="360.82" width="5.90" height="55.38" fill="#595959" stroke="#2a2a2a" stroke-width="0.7"/>
<line x1="474.52" y1="416.20" x2="474.52" y2="420.70" stroke="#222" stroke-width="0.9"/>
<text x="477.22" y="428.20" text-anchor="end" transform="rotate(-45 477.22 428.20)">UPN09</text>
<rect x="486.61" y="412.24" width="5.90" height="3.96" fill="#d6d6d6" stroke="#333" stroke-width="0.7"/>
<rect x="492.51" y="366.75" width="5.90" height="49.45" fill="#595959" stroke="#2a2a2a" stroke-width="0.7"/>
<line x1="492.51" y1="416.20" x2="492.51" y2="420.70" stroke="#222" stroke-width="0.9"/>
<text x="495.21" y="428.20" text-anchor="end" transform="rotate(-45 495.21 428.20)">UPN10</text>
<rect x="504.60" y="401.86" width="5.90" height="14.34" fill="#d6d6d6" stroke="#333" stroke-width="0.7"/>
<rect x="510.50" y="411.75" width="5.90" height="4.45" fill="#595959" stroke="#2a2a2a" stroke-width="0.7"/>
<line x1="510.50" y1="416.20" x2="510.50" y2="420.70" stroke="#222" stroke-width="0.9"/>
<text x="513.20" y="428.20" text-anchor="end" transform="rotate(-45 513.20 428.20)">UPN11</text>
<rect x="450.60" y="314.40" width="6.00" height="6.00" fill="#d6d6d6" stroke="#444" stroke-width="0.7"/>
<rect x="450.60" y="327.80" width="6.00" height="6.00" fill="#595959" stroke="#333" stroke-width="0.7"/>
<text x="459.30" y="320.00" textLength="21.16" lengthAdjust="spacingAndGlyphs">LSCs</text>
<text x="459.30" y="333.60" textLength="55.19" lengthAdjust="spacingAndGlyphs">AML bulk cells</text>
<text x="0.40" y="470.60" font-size="12.1" font-weight="bold" fill="#111">H</text>
<rect x="26.20" y="478.00" width="10.69" height="13.10" fill="#a2a2a2" stroke="#262626" stroke-width="0.8"/>
<rect x="26.20" y="491.10" width="10.69" height="13.00" fill="#a8a8a8" stroke="#262626" stroke-width="0.8"/>
<text x="31.55" y="513.60" text-anchor="middle">A</text>
<rect x="36.89" y="478.00" width="10.69" height="13.10" fill="#fcfcfc" stroke="#262626" stroke-width="0.8"/>
<rect x="36.89" y="491.10" width="10.69" height="13.00" fill="#fcfcfc" stroke="#262626" stroke-width="0.8"/>
<text x="42.23" y="513.60" text-anchor="middle">C</text>
<rect x="47.58" y="478.00" width="10.69" height="13.10" fill="#cacaca" stroke="#262626" stroke-width="0.8"/>
<rect x="47.58" y="491.10" width="10.69" height="13.00" fill="#d0d0d0" stroke="#262626" stroke-width="0.8"/>
<text x="52.92" y="513.60" text-anchor="middle">D</text>
<rect x="58.27" y="478.00" width="10.69" height="13.10" fill="#9a9a9a" stroke="#262626" stroke-width="0.8"/>
<rect x="58.27" y="491.10" width="10.69" height="13.00" fill="#a0a0a0" stroke="#262626" stroke-width="0.8"/>
<text x="63.62" y="513.60" text-anchor="middle">E</text>
<rect x="68.96" y="478.00" width="10.69" height="13.10" fill="#a8a8a8" stroke="#262626" stroke-width="0.8"/>
<rect x="68.96" y="491.10" width="10.69" height="13.00" fill="#b0b0b0" stroke="#262626" stroke-width="0.8"/>
<text x="74.31" y="513.60" text-anchor="middle">F</text>
<rect x="79.65" y="478.00" width="10.69" height="13.10" fill="#c0c0c0" stroke="#262626" stroke-width="0.8"/>
<rect x="79.65" y="491.10" width="10.69" height="13.00" fill="#c4c4c4" stroke="#262626" stroke-width="0.8"/>
<text x="85.00" y="513.60" text-anchor="middle">G</text>
<rect x="90.34" y="478.00" width="10.69" height="13.10" fill="#e4e4e4" stroke="#262626" stroke-width="0.8"/>
<rect x="90.34" y="491.10" width="10.69" height="13.00" fill="#e0e0e0" stroke="#262626" stroke-width="0.8"/>
<text x="95.69" y="513.60" text-anchor="middle">H</text>
<rect x="101.03" y="478.00" width="10.69" height="13.10" fill="#a8a8a8" stroke="#262626" stroke-width="0.8"/>
<rect x="101.03" y="491.10" width="10.69" height="13.00" fill="#b0b0b0" stroke="#262626" stroke-width="0.8"/>
<text x="106.38" y="513.60" text-anchor="middle">I</text>
<rect x="111.72" y="478.00" width="10.69" height="13.10" fill="#b0b0b0" stroke="#262626" stroke-width="0.8"/>
<rect x="111.72" y="491.10" width="10.69" height="13.00" fill="#b8b8b8" stroke="#262626" stroke-width="0.8"/>
<text x="117.07" y="513.60" text-anchor="middle">K</text>
<rect x="122.41" y="478.00" width="10.69" height="13.10" fill="#505050" stroke="#262626" stroke-width="0.8"/>
<rect x="122.41" y="491.10" width="10.69" height="13.00" fill="#4a4a4a" stroke="#262626" stroke-width="0.8"/>
<text x="127.76" y="513.60" text-anchor="middle">L</text>
<rect x="133.10" y="478.00" width="10.69" height="13.10" fill="#e2e2e2" stroke="#262626" stroke-width="0.8"/>
<rect x="133.10" y="491.10" width="10.69" height="13.00" fill="#e4e4e4" stroke="#262626" stroke-width="0.8"/>
<text x="138.45" y="513.60" text-anchor="middle">M</text>
<rect x="143.79" y="478.00" width="10.69" height="13.10" fill="#cacaca" stroke="#262626" stroke-width="0.8"/>
<rect x="143.79" y="491.10" width="10.69" height="13.00" fill="#cccccc" stroke="#262626" stroke-width="0.8"/>
<text x="149.14" y="513.60" text-anchor="middle">N</text>
<rect x="154.48" y="478.00" width="10.69" height="13.10" fill="#b0b0b0" stroke="#262626" stroke-width="0.8"/>
<rect x="154.48" y="491.10" width="10.69" height="13.00" fill="#bcbcbc" stroke="#262626" stroke-width="0.8"/>
<text x="159.83" y="513.60" text-anchor="middle">P</text>
<rect x="165.17" y="478.00" width="10.69" height="13.10" fill="#c8c8c8" stroke="#262626" stroke-width="0.8"/>
<rect x="165.17" y="491.10" width="10.69" height="13.00" fill="#cacaca" stroke="#262626" stroke-width="0.8"/>
<text x="170.52" y="513.60" text-anchor="middle">Q</text>
<rect x="175.86" y="478.00" width="10.69" height="13.10" fill="#bcbcbc" stroke="#262626" stroke-width="0.8"/>
<rect x="175.86" y="491.10" width="10.69" height="13.00" fill="#c0c0c0" stroke="#262626" stroke-width="0.8"/>
<text x="181.21" y="513.60" text-anchor="middle">R</text>
<rect x="186.55" y="478.00" width="10.69" height="13.10" fill="#a8a8a8" stroke="#262626" stroke-width="0.8"/>
<rect x="186.55" y="491.10" width="10.69" height="13.00" fill="#acacac" stroke="#262626" stroke-width="0.8"/>
<text x="191.90" y="513.60" text-anchor="middle">S</text>
<rect x="197.24" y="478.00" width="10.69" height="13.10" fill="#bcbcbc" stroke="#262626" stroke-width="0.8"/>
<rect x="197.24" y="491.10" width="10.69" height="13.00" fill="#c0c0c0" stroke="#262626" stroke-width="0.8"/>
<text x="202.59" y="513.60" text-anchor="middle">T</text>
<rect x="207.93" y="478.00" width="10.69" height="13.10" fill="#989898" stroke="#262626" stroke-width="0.8"/>
<rect x="207.93" y="491.10" width="10.69" height="13.00" fill="#9c9c9c" stroke="#262626" stroke-width="0.8"/>
<text x="213.28" y="513.60" text-anchor="middle">V</text>
<rect x="218.62" y="478.00" width="10.69" height="13.10" fill="#eeeeee" stroke="#262626" stroke-width="0.8"/>
<rect x="218.62" y="491.10" width="10.69" height="13.00" fill="#f2f2f2" stroke="#262626" stroke-width="0.8"/>
<text x="223.97" y="513.60" text-anchor="middle">W</text>
<rect x="229.31" y="478.00" width="10.69" height="13.10" fill="#b4b4b4" stroke="#262626" stroke-width="0.8"/>
<rect x="229.31" y="491.10" width="10.69" height="13.00" fill="#bababa" stroke="#262626" stroke-width="0.8"/>
<text x="234.66" y="513.60" text-anchor="middle">Y</text>
<rect x="26.20" y="478.00" width="213.80" height="26.10" fill="none" stroke="#1a1a1a" stroke-width="1.1"/>
<text x="133.10" y="474.20" text-anchor="middle">HLA class I</text>
<text x="23.80" y="488.10" text-anchor="end">LSCs</text>
<text x="23.80" y="501.30" text-anchor="end">AML</text>
<rect x="283.80" y="478.00" width="10.69" height="13.10" fill="#a0a0a0" stroke="#262626" stroke-width="0.8"/>
<rect x="283.80" y="491.10" width="10.69" height="13.00" fill="#a4a4a4" stroke="#262626" stroke-width="0.8"/>
<text x="289.15" y="513.60" text-anchor="middle">A</text>
<rect x="294.50" y="478.00" width="10.69" height="13.10" fill="#fefefe" stroke="#262626" stroke-width="0.8"/>
<rect x="294.50" y="491.10" width="10.69" height="13.00" fill="#fcfcfc" stroke="#262626" stroke-width="0.8"/>
<text x="299.84" y="513.60" text-anchor="middle">C</text>
<rect x="305.19" y="478.00" width="10.69" height="13.10" fill="#aaaaaa" stroke="#262626" stroke-width="0.8"/>
<rect x="305.19" y="491.10" width="10.69" height="13.00" fill="#acacac" stroke="#262626" stroke-width="0.8"/>
<text x="310.54" y="513.60" text-anchor="middle">D</text>
<rect x="315.88" y="478.00" width="10.69" height="13.10" fill="#a2a2a2" stroke="#262626" stroke-width="0.8"/>
<rect x="315.88" y="491.10" width="10.69" height="13.00" fill="#a6a6a6" stroke="#262626" stroke-width="0.8"/>
<text x="321.23" y="513.60" text-anchor="middle">E</text>
<rect x="326.58" y="478.00" width="10.69" height="13.10" fill="#bcbcbc" stroke="#262626" stroke-width="0.8"/>
<rect x="326.58" y="491.10" width="10.69" height="13.00" fill="#c0c0c0" stroke="#262626" stroke-width="0.8"/>
<text x="331.93" y="513.60" text-anchor="middle">F</text>
<rect x="337.27" y="478.00" width="10.69" height="13.10" fill="#acacac" stroke="#262626" stroke-width="0.8"/>
<rect x="337.27" y="491.10" width="10.69" height="13.00" fill="#b0b0b0" stroke="#262626" stroke-width="0.8"/>
<text x="342.62" y="513.60" text-anchor="middle">G</text>
<rect x="347.97" y="478.00" width="10.69" height="13.10" fill="#e2e2e2" stroke="#262626" stroke-width="0.8"/>
<rect x="347.97" y="491.10" width="10.69" height="13.00" fill="#e6e6e6" stroke="#262626" stroke-width="0.8"/>
<text x="353.32" y="513.60" text-anchor="middle">H</text>
<rect x="358.67" y="478.00" width="10.69" height="13.10" fill="#b0b0b0" stroke="#262626" stroke-width="0.8"/>
<rect x="358.67" y="491.10" width="10.69" height="13.00" fill="#b2b2b2" stroke="#262626" stroke-width="0.8"/>
<text x="364.01" y="513.60" text-anchor="middle">I</text>
<rect x="369.36" y="478.00" width="10.69" height="13.10" fill="#a2a2a2" stroke="#262626" stroke-width="0.8"/>
<rect x="369.36" y="491.10" width="10.69" height="13.00" fill="#a6a6a6" stroke="#262626" stroke-width="0.8"/>
<text x="374.71" y="513.60" text-anchor="middle">K</text>
<rect x="380.06" y="478.00" width="10.69" height="13.10" fill="#8a8a8a" stroke="#262626" stroke-width="0.8"/>
<rect x="380.06" y="491.10" width="10.69" height="13.00" fill="#8c8c8c" stroke="#262626" stroke-width="0.8"/>
<text x="385.40" y="513.60" text-anchor="middle">L</text>
<rect x="390.75" y="478.00" width="10.69" height="13.10" fill="#e4e4e4" stroke="#262626" stroke-width="0.8"/>
<rect x="390.75" y="491.10" width="10.69" height="13.00" fill="#e8e8e8" stroke="#262626" stroke-width="0.8"/>
<text x="396.10" y="513.60" text-anchor="middle">M</text>
<rect x="401.44" y="478.00" width="10.69" height="13.10" fill="#b8b8b8" stroke="#262626" stroke-width="0.8"/>
<rect x="401.44" y="491.10" width="10.69" height="13.00" fill="#bcbcbc" stroke="#262626" stroke-width="0.8"/>
<text x="406.79" y="513.60" text-anchor="middle">N</text>
<rect x="412.14" y="478.00" width="10.69" height="13.10" fill="#acacac" stroke="#262626" stroke-width="0.8"/>
<rect x="412.14" y="491.10" width="10.69" height="13.00" fill="#b0b0b0" stroke="#262626" stroke-width="0.8"/>
<text x="417.49" y="513.60" text-anchor="middle">P</text>
<rect x="422.83" y="478.00" width="10.69" height="13.10" fill="#cacaca" stroke="#262626" stroke-width="0.8"/>
<rect x="422.83" y="491.10" width="10.69" height="13.00" fill="#cccccc" stroke="#262626" stroke-width="0.8"/>
<text x="428.18" y="513.60" text-anchor="middle">Q</text>
<rect x="433.53" y="478.00" width="10.69" height="13.10" fill="#acacac" stroke="#262626" stroke-width="0.8"/>
<rect x="433.53" y="491.10" width="10.69" height="13.00" fill="#b0b0b0" stroke="#262626" stroke-width="0.8"/>
<text x="438.88" y="513.60" text-anchor="middle">R</text>
<rect x="444.23" y="478.00" width="10.69" height="13.10" fill="#acacac" stroke="#262626" stroke-width="0.8"/>
<rect x="444.23" y="491.10" width="10.69" height="13.00" fill="#b0b0b0" stroke="#262626" stroke-width="0.8"/>
<text x="449.57" y="513.60" text-anchor="middle">S</text>
<rect x="454.92" y="478.00" width="10.69" height="13.10" fill="#bababa" stroke="#262626" stroke-width="0.8"/>
<rect x="454.92" y="491.10" width="10.69" height="13.00" fill="#bebebe" stroke="#262626" stroke-width="0.8"/>
<text x="460.27" y="513.60" text-anchor="middle">T</text>
<rect x="465.62" y="478.00" width="10.69" height="13.10" fill="#969696" stroke="#262626" stroke-width="0.8"/>
<rect x="465.62" y="491.10" width="10.69" height="13.00" fill="#9a9a9a" stroke="#262626" stroke-width="0.8"/>
<text x="470.96" y="513.60" text-anchor="middle">V</text>
<rect x="476.31" y="478.00" width="10.69" height="13.10" fill="#eeeeee" stroke="#262626" stroke-width="0.8"/>
<rect x="476.31" y="491.10" width="10.69" height="13.00" fill="#f2f2f2" stroke="#262626" stroke-width="0.8"/>
<text x="481.66" y="513.60" text-anchor="middle">W</text>
<rect x="487.00" y="478.00" width="10.69" height="13.10" fill="#c2c2c2" stroke="#262626" stroke-width="0.8"/>
<rect x="487.00" y="491.10" width="10.69" height="13.00" fill="#c4c4c4" stroke="#262626" stroke-width="0.8"/>
<text x="492.35" y="513.60" text-anchor="middle">Y</text>
<rect x="283.80" y="478.00" width="213.90" height="26.10" fill="none" stroke="#1a1a1a" stroke-width="1.1"/>
<text x="390.75" y="474.20" text-anchor="middle">HLA class II</text>
<text x="281.30" y="488.10" text-anchor="end">LSCs</text>
<text x="281.30" y="501.30" text-anchor="end">AML</text>
<rect x="217.6" y="520.6" width="86.9" height="9.8" fill="url(#cbar)" stroke="#222" stroke-width="0.9"/>
<line x1="246.80" y1="521.00" x2="246.80" y2="530.00" stroke="#222" stroke-width="0.7" stroke-dasharray="1.6 1.2"/>
<line x1="275.60" y1="521.00" x2="275.60" y2="530.00" stroke="#222" stroke-width="0.7" stroke-dasharray="1.6 1.2"/>
<text x="217.60" y="539.20" text-anchor="middle">0</text>
<text x="246.80" y="539.20" text-anchor="middle">5</text>
<text x="275.60" y="539.20" text-anchor="middle">10</text>
<text x="304.50" y="539.20" text-anchor="middle">15</text>
<text x="261.20" y="551.80" text-anchor="middle">Frequency of aa (%)</text>
<text x="2.60" y="571.80" font-size="12.1" font-weight="bold" fill="#111">I</text>
<line x1="39.40" y1="573.00" x2="39.40" y2="639.90" stroke="#222" stroke-width="1.2"/>
<line x1="38.80" y1="639.30" x2="170.60" y2="639.30" stroke="#222" stroke-width="1.2"/>
<line x1="35.60" y1="639.30" x2="39.40" y2="639.30" stroke="#222" stroke-width="0.9"/>
<text x="33.00" y="642.30" text-anchor="end">0</text>
<line x1="35.60" y1="622.85" x2="39.40" y2="622.85" stroke="#222" stroke-width="0.9"/>
<text x="33.00" y="625.85" text-anchor="end">20</text>
<line x1="35.60" y1="606.40" x2="39.40" y2="606.40" stroke="#222" stroke-width="0.9"/>
<text x="33.00" y="609.40" text-anchor="end">40</text>
<line x1="35.60" y1="589.95" x2="39.40" y2="589.95" stroke="#222" stroke-width="0.9"/>
<text x="33.00" y="592.95" text-anchor="end">60</text>
<line x1="35.60" y1="573.50" x2="39.40" y2="573.50" stroke="#222" stroke-width="0.9"/>
<text x="33.00" y="576.50" text-anchor="end">80</text>
<line x1="61.00" y1="639.30" x2="61.00" y2="643.30" stroke="#222" stroke-width="0.9"/>
<text x="61.00" y="653.60" text-anchor="middle">8</text>
<line x1="104.20" y1="639.30" x2="104.20" y2="643.30" stroke="#222" stroke-width="0.9"/>
<text x="104.20" y="653.60" text-anchor="middle">10</text>
<line x1="147.40" y1="639.30" x2="147.40" y2="643.30" stroke="#222" stroke-width="0.9"/>
<text x="147.40" y="653.60" text-anchor="middle">12</text>
<text x="104.10" y="570.60" text-anchor="middle">HLA class I</text>
<polyline points="61.00,633.13 82.60,586.25 104.20,622.85 125.80,633.13 147.40,638.64" fill="none" stroke="#d4d4d4" stroke-width="1.3"/>
<circle cx="61.00" cy="633.13" r="2.3" fill="#d6d6d6"/>
<circle cx="82.60" cy="586.25" r="2.3" fill="#d6d6d6"/>
<circle cx="104.20" cy="622.85" r="2.3" fill="#d6d6d6"/>
<circle cx="125.80" cy="633.13" r="2.3" fill="#d6d6d6"/>
<circle cx="147.40" cy="638.64" r="2.3" fill="#d6d6d6"/>
<polyline points="61.00,630.25 82.60,586.66 104.20,625.07 125.80,633.87 147.40,638.56" fill="none" stroke="#555" stroke-width="1.1"/>
<circle cx="61.00" cy="630.25" r="2.2" fill="#5a5a5a" stroke="#444" stroke-width="0.4"/>
<circle cx="82.60" cy="586.66" r="2.2" fill="#5a5a5a" stroke="#444" stroke-width="0.4"/>
<circle cx="104.20" cy="625.07" r="2.2" fill="#5a5a5a" stroke="#444" stroke-width="0.4"/>
<circle cx="125.80" cy="633.87" r="2.2" fill="#5a5a5a" stroke="#444" stroke-width="0.4"/>
<circle cx="147.40" cy="638.56" r="2.2" fill="#5a5a5a" stroke="#444" stroke-width="0.4"/>
<line x1="39.40" y1="671.60" x2="39.40" y2="738.60" stroke="#222" stroke-width="1.2"/>
<line x1="38.80" y1="738.00" x2="170.60" y2="738.00" stroke="#222" stroke-width="1.2"/>
<line x1="35.60" y1="738.00" x2="39.40" y2="738.00" stroke="#222" stroke-width="0.9"/>
<text x="33.00" y="741.00" text-anchor="end">0</text>
<line x1="35.60" y1="721.50" x2="39.40" y2="721.50" stroke="#222" stroke-width="0.9"/>
<text x="33.00" y="724.50" text-anchor="end">5</text>
<line x1="35.60" y1="705.00" x2="39.40" y2="705.00" stroke="#222" stroke-width="0.9"/>
<text x="33.00" y="708.00" text-anchor="end">10</text>
<line x1="35.60" y1="688.50" x2="39.40" y2="688.50" stroke="#222" stroke-width="0.9"/>
<text x="33.00" y="691.50" text-anchor="end">15</text>
<line x1="35.60" y1="672.00" x2="39.40" y2="672.00" stroke="#222" stroke-width="0.9"/>
<text x="33.00" y="675.00" text-anchor="end">20</text>
<line x1="59.60" y1="738.00" x2="59.60" y2="742.00" stroke="#222" stroke-width="0.9"/>
<text x="59.60" y="752.60" text-anchor="middle">10</text>
<line x1="94.20" y1="738.00" x2="94.20" y2="742.00" stroke="#222" stroke-width="0.9"/>
<text x="94.20" y="752.60" text-anchor="middle">15</text>
<line x1="128.80" y1="738.00" x2="128.80" y2="742.00" stroke="#222" stroke-width="0.9"/>
<text x="128.80" y="752.60" text-anchor="middle">20</text>
<line x1="163.40" y1="738.00" x2="163.40" y2="742.00" stroke="#222" stroke-width="0.9"/>
<text x="163.40" y="752.60" text-anchor="middle">25</text>
<text x="104.10" y="670.60" text-anchor="middle">HLA class II</text>
<polyline points="45.76,735.69 52.68,731.40 59.60,734.04 66.52,731.40 73.44,722.49 80.36,710.94 87.28,693.12 94.20,680.25 101.12,680.58 108.04,696.75 114.96,713.91 121.88,724.80 128.80,729.42 135.72,731.07 142.64,732.39 149.56,733.38 156.48,734.04 163.40,733.05" fill="none" stroke="#d4d4d4" stroke-width="1.3"/>
<circle cx="45.76" cy="735.69" r="2.3" fill="#d6d6d6"/>
<circle cx="52.68" cy="731.40" r="2.3" fill="#d6d6d6"/>
<circle cx="59.60" cy="734.04" r="2.3" fill="#d6d6d6"/>
<circle cx="66.52" cy="731.40" r="2.3" fill="#d6d6d6"/>
<circle cx="73.44" cy="722.49" r="2.3" fill="#d6d6d6"/>
<circle cx="80.36" cy="710.94" r="2.3" fill="#d6d6d6"/>
<circle cx="87.28" cy="693.12" r="2.3" fill="#d6d6d6"/>
<circle cx="94.20" cy="680.25" r="2.3" fill="#d6d6d6"/>
<circle cx="101.12" cy="680.58" r="2.3" fill="#d6d6d6"/>
<circle cx="108.04" cy="696.75" r="2.3" fill="#d6d6d6"/>
<circle cx="114.96" cy="713.91" r="2.3" fill="#d6d6d6"/>
<circle cx="121.88" cy="724.80" r="2.3" fill="#d6d6d6"/>
<circle cx="128.80" cy="729.42" r="2.3" fill="#d6d6d6"/>
<circle cx="135.72" cy="731.07" r="2.3" fill="#d6d6d6"/>
<circle cx="142.64" cy="732.39" r="2.3" fill="#d6d6d6"/>
<circle cx="149.56" cy="733.38" r="2.3" fill="#d6d6d6"/>
<circle cx="156.48" cy="734.04" r="2.3" fill="#d6d6d6"/>
<circle cx="163.40" cy="733.05" r="2.3" fill="#d6d6d6"/>
<polyline points="45.76,735.03 52.68,731.07 59.60,733.38 66.52,730.74 73.44,723.81 80.36,710.61 87.28,694.61 94.20,681.90 101.12,682.56 108.04,699.06 114.96,714.90 121.88,724.47 128.80,729.09 135.72,730.74 142.64,731.89 149.56,733.05 156.48,734.04 163.40,732.72" fill="none" stroke="#555" stroke-width="1.1"/>
<circle cx="45.76" cy="735.03" r="2.2" fill="#5a5a5a" stroke="#444" stroke-width="0.4"/>
<circle cx="52.68" cy="731.07" r="2.2" fill="#5a5a5a" stroke="#444" stroke-width="0.4"/>
<circle cx="59.60" cy="733.38" r="2.2" fill="#5a5a5a" stroke="#444" stroke-width="0.4"/>
<circle cx="66.52" cy="730.74" r="2.2" fill="#5a5a5a" stroke="#444" stroke-width="0.4"/>
<circle cx="73.44" cy="723.81" r="2.2" fill="#5a5a5a" stroke="#444" stroke-width="0.4"/>
<circle cx="80.36" cy="710.61" r="2.2" fill="#5a5a5a" stroke="#444" stroke-width="0.4"/>
<circle cx="87.28" cy="694.61" r="2.2" fill="#5a5a5a" stroke="#444" stroke-width="0.4"/>
<circle cx="94.20" cy="681.90" r="2.2" fill="#5a5a5a" stroke="#444" stroke-width="0.4"/>
<circle cx="101.12" cy="682.56" r="2.2" fill="#5a5a5a" stroke="#444" stroke-width="0.4"/>
<circle cx="108.04" cy="699.06" r="2.2" fill="#5a5a5a" stroke="#444" stroke-width="0.4"/>
<circle cx="114.96" cy="714.90" r="2.2" fill="#5a5a5a" stroke="#444" stroke-width="0.4"/>
<circle cx="121.88" cy="724.47" r="2.2" fill="#5a5a5a" stroke="#444" stroke-width="0.4"/>
<circle cx="128.80" cy="729.09" r="2.2" fill="#5a5a5a" stroke="#444" stroke-width="0.4"/>
<circle cx="135.72" cy="730.74" r="2.2" fill="#5a5a5a" stroke="#444" stroke-width="0.4"/>
<circle cx="142.64" cy="731.89" r="2.2" fill="#5a5a5a" stroke="#444" stroke-width="0.4"/>
<circle cx="149.56" cy="733.05" r="2.2" fill="#5a5a5a" stroke="#444" stroke-width="0.4"/>
<circle cx="156.48" cy="734.04" r="2.2" fill="#5a5a5a" stroke="#444" stroke-width="0.4"/>
<circle cx="163.40" cy="732.72" r="2.2" fill="#5a5a5a" stroke="#444" stroke-width="0.4"/>
<text x="13.50" y="658.60" text-anchor="middle" transform="rotate(-90 13.50 658.60)">Frequency of peptides (%)</text>
<text x="104.60" y="762.60" text-anchor="middle">Peptide length (aa)</text>
<line x1="28.00" y1="778.50" x2="45.60" y2="778.50" stroke="#d0d0d0" stroke-width="1.3"/>
<circle cx="36.7" cy="778.5" r="2.3" fill="#d6d6d6"/>
<text x="49.60" y="781.60">LSCs</text>
<line x1="81.40" y1="778.50" x2="98.10" y2="778.50" stroke="#555" stroke-width="1.1"/>
<circle cx="89.6" cy="778.5" r="2.2" fill="#5a5a5a" stroke="#444" stroke-width="0.4"/>
<text x="102.10" y="781.60">AML bulk cells</text>
<text x="181.50" y="572.00" font-size="12.1" font-weight="bold" fill="#111">J</text>
<line x1="226.70" y1="571.20" x2="226.70" y2="738.60" stroke="#222" stroke-width="1.2"/>
<line x1="226.10" y1="738.00" x2="338.10" y2="738.00" stroke="#222" stroke-width="1.2"/>
<line x1="226.70" y1="738.00" x2="226.70" y2="742.00" stroke="#222" stroke-width="0.9"/>
<text x="226.70" y="752.20" text-anchor="middle">0</text>
<line x1="254.40" y1="738.00" x2="254.40" y2="742.00" stroke="#222" stroke-width="0.9"/>
<text x="254.40" y="752.20" text-anchor="middle">25</text>
<line x1="282.10" y1="738.00" x2="282.10" y2="742.00" stroke="#222" stroke-width="0.9"/>
<text x="282.10" y="752.20" text-anchor="middle">50</text>
<line x1="309.80" y1="738.00" x2="309.80" y2="742.00" stroke="#222" stroke-width="0.9"/>
<text x="309.80" y="752.20" text-anchor="middle">75</text>
<line x1="337.50" y1="738.00" x2="337.50" y2="742.00" stroke="#222" stroke-width="0.9"/>
<text x="337.50" y="752.20" text-anchor="middle">100</text>
<text x="284.60" y="764.60" text-anchor="middle">Frequency (%)</text>
<text x="283.00" y="570.60" text-anchor="middle">HLA class I</text>
<rect x="276.56" y="576.25" width="60.94" height="8.3" fill="#5c5c5c"/>
<rect x="233.13" y="576.25" width="43.43" height="8.3" fill="url(#hatch)"/>
<rect x="226.70" y="576.25" width="6.43" height="8.3" fill="#d4d4d4"/>
<line x1="233.13" y1="576.25" x2="233.13" y2="584.55" stroke="#444" stroke-width="0.6"/>
<line x1="276.56" y1="576.25" x2="276.56" y2="584.55" stroke="#444" stroke-width="0.6"/>
<rect x="226.70" y="576.25" width="110.80" height="8.30" fill="none" stroke="#333" stroke-width="0.8"/>
<line x1="222.40" y1="580.40" x2="226.70" y2="580.40" stroke="#222" stroke-width="0.9"/>
<text x="219.20" y="583.40" textLength="17.39" lengthAdjust="spacingAndGlyphs" text-anchor="end">Total</text>
<rect x="300.94" y="603.15" width="36.56" height="8.3" fill="#5c5c5c"/>
<rect x="233.35" y="603.15" width="67.59" height="8.3" fill="url(#hatch)"/>
<rect x="226.70" y="603.15" width="6.65" height="8.3" fill="#d4d4d4"/>
<line x1="233.35" y1="603.15" x2="233.35" y2="611.45" stroke="#444" stroke-width="0.6"/>
<line x1="300.94" y1="603.15" x2="300.94" y2="611.45" stroke="#444" stroke-width="0.6"/>
<rect x="226.70" y="603.15" width="110.80" height="8.30" fill="none" stroke="#333" stroke-width="0.8"/>
<line x1="222.40" y1="607.30" x2="226.70" y2="607.30" stroke="#222" stroke-width="0.9"/>
<text x="219.20" y="610.30" textLength="25.86" lengthAdjust="spacingAndGlyphs" text-anchor="end">UPN01</text>
<rect x="264.93" y="616.73" width="72.57" height="8.3" fill="#5c5c5c"/>
<rect x="235.01" y="616.73" width="29.92" height="8.3" fill="url(#hatch)"/>
<rect x="226.70" y="616.73" width="8.31" height="8.3" fill="#d4d4d4"/>
<line x1="235.01" y1="616.73" x2="235.01" y2="625.03" stroke="#444" stroke-width="0.6"/>
<line x1="264.93" y1="616.73" x2="264.93" y2="625.03" stroke="#444" stroke-width="0.6"/>
<rect x="226.70" y="616.73" width="110.80" height="8.30" fill="none" stroke="#333" stroke-width="0.8"/>
<line x1="222.40" y1="620.88" x2="226.70" y2="620.88" stroke="#222" stroke-width="0.9"/>
<text x="219.20" y="623.88" textLength="25.86" lengthAdjust="spacingAndGlyphs" text-anchor="end">UPN02</text>
<rect x="264.37" y="630.31" width="73.13" height="8.3" fill="#5c5c5c"/>
<rect x="233.35" y="630.31" width="31.02" height="8.3" fill="url(#hatch)"/>
<rect x="226.70" y="630.31" width="6.65" height="8.3" fill="#d4d4d4"/>
<line x1="233.35" y1="630.31" x2="233.35" y2="638.61" stroke="#444" stroke-width="0.6"/>
<line x1="264.37" y1="630.31" x2="264.37" y2="638.61" stroke="#444" stroke-width="0.6"/>
<rect x="226.70" y="630.31" width="110.80" height="8.30" fill="none" stroke="#333" stroke-width="0.8"/>
<line x1="222.40" y1="634.46" x2="226.70" y2="634.46" stroke="#222" stroke-width="0.9"/>
<text x="219.20" y="637.46" textLength="25.86" lengthAdjust="spacingAndGlyphs" text-anchor="end">UPN03</text>
<rect x="320.88" y="643.89" width="16.62" height="8.3" fill="#5c5c5c"/>
<rect x="272.13" y="643.89" width="48.75" height="8.3" fill="url(#hatch)"/>
<rect x="226.70" y="643.89" width="45.43" height="8.3" fill="#d4d4d4"/>
<line x1="272.13" y1="643.89" x2="272.13" y2="652.19" stroke="#444" stroke-width="0.6"/>
<line x1="320.88" y1="643.89" x2="320.88" y2="652.19" stroke="#444" stroke-width="0.6"/>
<rect x="226.70" y="643.89" width="110.80" height="8.30" fill="none" stroke="#333" stroke-width="0.8"/>
<line x1="222.40" y1="648.04" x2="226.70" y2="648.04" stroke="#222" stroke-width="0.9"/>
<text x="219.20" y="651.04" textLength="25.86" lengthAdjust="spacingAndGlyphs" text-anchor="end">UPN04</text>
<rect x="265.48" y="657.47" width="72.02" height="8.3" fill="#5c5c5c"/>
<rect x="227.81" y="657.47" width="37.67" height="8.3" fill="url(#hatch)"/>
<rect x="226.70" y="657.47" width="1.11" height="8.3" fill="#d4d4d4"/>
<line x1="227.81" y1="657.47" x2="227.81" y2="665.77" stroke="#444" stroke-width="0.6"/>
<line x1="265.48" y1="657.47" x2="265.48" y2="665.77" stroke="#444" stroke-width="0.6"/>
<rect x="226.70" y="657.47" width="110.80" height="8.30" fill="none" stroke="#333" stroke-width="0.8"/>
<line x1="222.40" y1="661.62" x2="226.70" y2="661.62" stroke="#222" stroke-width="0.9"/>
<text x="219.20" y="664.62" textLength="25.86" lengthAdjust="spacingAndGlyphs" text-anchor="end">UPN05</text>
<rect x="285.42" y="671.05" width="52.08" height="8.3" fill="#5c5c5c"/>
<rect x="231.13" y="671.05" width="54.29" height="8.3" fill="url(#hatch)"/>
<rect x="226.70" y="671.05" width="4.43" height="8.3" fill="#d4d4d4"/>
<line x1="231.13" y1="671.05" x2="231.13" y2="679.35" stroke="#444" stroke-width="0.6"/>
<line x1="285.42" y1="671.05" x2="285.42" y2="679.35" stroke="#444" stroke-width="0.6"/>
<rect x="226.70" y="671.05" width="110.80" height="8.30" fill="none" stroke="#333" stroke-width="0.8"/>
<line x1="222.40" y1="675.20" x2="226.70" y2="675.20" stroke="#222" stroke-width="0.9"/>
<text x="219.20" y="678.20" textLength="25.86" lengthAdjust="spacingAndGlyphs" text-anchor="end">UPN06</text>
<rect x="259.39" y="684.63" width="78.11" height="8.3" fill="#5c5c5c"/>
<rect x="241.10" y="684.63" width="18.28" height="8.3" fill="url(#hatch)"/>
<rect x="226.70" y="684.63" width="14.40" height="8.3" fill="#d4d4d4"/>
<line x1="241.10" y1="684.63" x2="241.10" y2="692.93" stroke="#444" stroke-width="0.6"/>
<line x1="259.39" y1="684.63" x2="259.39" y2="692.93" stroke="#444" stroke-width="0.6"/>
<rect x="226.70" y="684.63" width="110.80" height="8.30" fill="none" stroke="#333" stroke-width="0.8"/>
<line x1="222.40" y1="688.78" x2="226.70" y2="688.78" stroke="#222" stroke-width="0.9"/>
<text x="219.20" y="691.78" textLength="25.86" lengthAdjust="spacingAndGlyphs" text-anchor="end">UPN07</text>
<rect x="301.27" y="698.21" width="36.23" height="8.3" fill="#5c5c5c"/>
<rect x="244.65" y="698.21" width="56.62" height="8.3" fill="url(#hatch)"/>
<rect x="226.70" y="698.21" width="17.95" height="8.3" fill="#d4d4d4"/>
<line x1="244.65" y1="698.21" x2="244.65" y2="706.51" stroke="#444" stroke-width="0.6"/>
<line x1="301.27" y1="698.21" x2="301.27" y2="706.51" stroke="#444" stroke-width="0.6"/>
<rect x="226.70" y="698.21" width="110.80" height="8.30" fill="none" stroke="#333" stroke-width="0.8"/>
<line x1="222.40" y1="702.36" x2="226.70" y2="702.36" stroke="#222" stroke-width="0.9"/>
<text x="219.20" y="705.36" textLength="25.86" lengthAdjust="spacingAndGlyphs" text-anchor="end">UPN08</text>
<rect x="229.69" y="711.79" width="107.81" height="8.3" fill="#5c5c5c"/>
<rect x="227.59" y="711.79" width="2.11" height="8.3" fill="url(#hatch)"/>
<rect x="226.70" y="711.79" width="0.89" height="8.3" fill="#d4d4d4"/>
<line x1="227.59" y1="711.79" x2="227.59" y2="720.09" stroke="#444" stroke-width="0.6"/>
<line x1="229.69" y1="711.79" x2="229.69" y2="720.09" stroke="#444" stroke-width="0.6"/>
<rect x="226.70" y="711.79" width="110.80" height="8.30" fill="none" stroke="#333" stroke-width="0.8"/>
<line x1="222.40" y1="715.94" x2="226.70" y2="715.94" stroke="#222" stroke-width="0.9"/>
<text x="219.20" y="718.94" textLength="25.86" lengthAdjust="spacingAndGlyphs" text-anchor="end">UPN09</text>
<rect x="228.14" y="725.37" width="109.36" height="8.3" fill="#5c5c5c"/>
<rect x="227.03" y="725.37" width="1.11" height="8.3" fill="url(#hatch)"/>
<rect x="226.70" y="725.37" width="0.33" height="8.3" fill="#d4d4d4"/>
<line x1="227.03" y1="725.37" x2="227.03" y2="733.67" stroke="#444" stroke-width="0.6"/>
<line x1="228.14" y1="725.37" x2="228.14" y2="733.67" stroke="#444" stroke-width="0.6"/>
<rect x="226.70" y="725.37" width="110.80" height="8.30" fill="none" stroke="#333" stroke-width="0.8"/>
<line x1="222.40" y1="729.52" x2="226.70" y2="729.52" stroke="#222" stroke-width="0.9"/>
<text x="219.20" y="732.52" textLength="25.86" lengthAdjust="spacingAndGlyphs" text-anchor="end">UPN10</text>
<line x1="384.30" y1="571.20" x2="384.30" y2="738.60" stroke="#222" stroke-width="1.2"/>
<line x1="383.70" y1="738.00" x2="495.90" y2="738.00" stroke="#222" stroke-width="1.2"/>
<line x1="384.30" y1="738.00" x2="384.30" y2="742.00" stroke="#222" stroke-width="0.9"/>
<text x="384.30" y="752.20" text-anchor="middle">0</text>
<line x1="412.05" y1="738.00" x2="412.05" y2="742.00" stroke="#222" stroke-width="0.9"/>
<text x="412.05" y="752.20" text-anchor="middle">25</text>
<line x1="439.80" y1="738.00" x2="439.80" y2="742.00" stroke="#222" stroke-width="0.9"/>
<text x="439.80" y="752.20" text-anchor="middle">50</text>
<line x1="467.55" y1="738.00" x2="467.55" y2="742.00" stroke="#222" stroke-width="0.9"/>
<text x="467.55" y="752.20" text-anchor="middle">75</text>
<line x1="495.30" y1="738.00" x2="495.30" y2="742.00" stroke="#222" stroke-width="0.9"/>
<text x="495.30" y="752.20" text-anchor="middle">100</text>
<text x="442.30" y="764.60" text-anchor="middle">Frequency (%)</text>
<text x="440.40" y="570.60" text-anchor="middle">HLA class II</text>
<rect x="443.13" y="575.45" width="52.17" height="8.3" fill="#5c5c5c"/>
<rect x="404.28" y="575.45" width="38.85" height="8.3" fill="url(#hatch)"/>
<rect x="384.30" y="575.45" width="19.98" height="8.3" fill="#d4d4d4"/>
<line x1="404.28" y1="575.45" x2="404.28" y2="583.75" stroke="#444" stroke-width="0.6"/>
<line x1="443.13" y1="575.45" x2="443.13" y2="583.75" stroke="#444" stroke-width="0.6"/>
<rect x="384.30" y="575.45" width="111.00" height="8.30" fill="none" stroke="#333" stroke-width="0.8"/>
<line x1="380.00" y1="579.60" x2="384.30" y2="579.60" stroke="#222" stroke-width="0.9"/>
<text x="377.90" y="582.60" textLength="17.39" lengthAdjust="spacingAndGlyphs" text-anchor="end">Total</text>
<rect x="465.33" y="600.45" width="29.97" height="8.3" fill="#5c5c5c"/>
<rect x="430.92" y="600.45" width="34.41" height="8.3" fill="url(#hatch)"/>
<rect x="384.30" y="600.45" width="46.62" height="8.3" fill="#d4d4d4"/>
<line x1="430.92" y1="600.45" x2="430.92" y2="608.75" stroke="#444" stroke-width="0.6"/>
<line x1="465.33" y1="600.45" x2="465.33" y2="608.75" stroke="#444" stroke-width="0.6"/>
<rect x="384.30" y="600.45" width="111.00" height="8.30" fill="none" stroke="#333" stroke-width="0.8"/>
<line x1="380.00" y1="604.60" x2="384.30" y2="604.60" stroke="#222" stroke-width="0.9"/>
<text x="377.90" y="607.60" textLength="25.86" lengthAdjust="spacingAndGlyphs" text-anchor="end">UPN01</text>
<rect x="422.04" y="612.94" width="73.26" height="8.3" fill="#5c5c5c"/>
<rect x="389.30" y="612.94" width="32.75" height="8.3" fill="url(#hatch)"/>
<rect x="384.30" y="612.94" width="5.00" height="8.3" fill="#d4d4d4"/>
<line x1="389.30" y1="612.94" x2="389.30" y2="621.24" stroke="#444" stroke-width="0.6"/>
<line x1="422.04" y1="612.94" x2="422.04" y2="621.24" stroke="#444" stroke-width="0.6"/>
<rect x="384.30" y="612.94" width="111.00" height="8.30" fill="none" stroke="#333" stroke-width="0.8"/>
<line x1="380.00" y1="617.09" x2="384.30" y2="617.09" stroke="#222" stroke-width="0.9"/>
<text x="377.90" y="620.09" textLength="25.86" lengthAdjust="spacingAndGlyphs" text-anchor="end">UPN02</text>
<rect x="483.09" y="625.43" width="12.21" height="8.3" fill="#5c5c5c"/>
<rect x="424.26" y="625.43" width="58.83" height="8.3" fill="url(#hatch)"/>
<rect x="384.30" y="625.43" width="39.96" height="8.3" fill="#d4d4d4"/>
<line x1="424.26" y1="625.43" x2="424.26" y2="633.73" stroke="#444" stroke-width="0.6"/>
<line x1="483.09" y1="625.43" x2="483.09" y2="633.73" stroke="#444" stroke-width="0.6"/>
<rect x="384.30" y="625.43" width="111.00" height="8.30" fill="none" stroke="#333" stroke-width="0.8"/>
<line x1="380.00" y1="629.58" x2="384.30" y2="629.58" stroke="#222" stroke-width="0.9"/>
<text x="377.90" y="632.58" textLength="25.86" lengthAdjust="spacingAndGlyphs" text-anchor="end">UPN03</text>
<rect x="452.01" y="637.92" width="43.29" height="8.3" fill="#5c5c5c"/>
<rect x="409.28" y="637.92" width="42.73" height="8.3" fill="url(#hatch)"/>
<rect x="384.30" y="637.92" width="24.98" height="8.3" fill="#d4d4d4"/>
<line x1="409.28" y1="637.92" x2="409.28" y2="646.22" stroke="#444" stroke-width="0.6"/>
<line x1="452.01" y1="637.92" x2="452.01" y2="646.22" stroke="#444" stroke-width="0.6"/>
<rect x="384.30" y="637.92" width="111.00" height="8.30" fill="none" stroke="#333" stroke-width="0.8"/>
<line x1="380.00" y1="642.07" x2="384.30" y2="642.07" stroke="#222" stroke-width="0.9"/>
<text x="377.90" y="645.07" textLength="25.86" lengthAdjust="spacingAndGlyphs" text-anchor="end">UPN04</text>
<rect x="402.06" y="650.41" width="93.24" height="8.3" fill="#5c5c5c"/>
<rect x="385.41" y="650.41" width="16.65" height="8.3" fill="url(#hatch)"/>
<rect x="384.30" y="650.41" width="1.11" height="8.3" fill="#d4d4d4"/>
<line x1="385.41" y1="650.41" x2="385.41" y2="658.71" stroke="#444" stroke-width="0.6"/>
<line x1="402.06" y1="650.41" x2="402.06" y2="658.71" stroke="#444" stroke-width="0.6"/>
<rect x="384.30" y="650.41" width="111.00" height="8.30" fill="none" stroke="#333" stroke-width="0.8"/>
<line x1="380.00" y1="654.56" x2="384.30" y2="654.56" stroke="#222" stroke-width="0.9"/>
<text x="377.90" y="657.56" textLength="25.86" lengthAdjust="spacingAndGlyphs" text-anchor="end">UPN05</text>
<rect x="447.57" y="662.90" width="47.73" height="8.3" fill="#5c5c5c"/>
<rect x="398.06" y="662.90" width="49.51" height="8.3" fill="url(#hatch)"/>
<rect x="384.30" y="662.90" width="13.76" height="8.3" fill="#d4d4d4"/>
<line x1="398.06" y1="662.90" x2="398.06" y2="671.20" stroke="#444" stroke-width="0.6"/>
<line x1="447.57" y1="662.90" x2="447.57" y2="671.20" stroke="#444" stroke-width="0.6"/>
<rect x="384.30" y="662.90" width="111.00" height="8.30" fill="none" stroke="#333" stroke-width="0.8"/>
<line x1="380.00" y1="667.05" x2="384.30" y2="667.05" stroke="#222" stroke-width="0.9"/>
<text x="377.90" y="670.05" textLength="25.86" lengthAdjust="spacingAndGlyphs" text-anchor="end">UPN06</text>
<rect x="456.45" y="675.39" width="38.85" height="8.3" fill="#5c5c5c"/>
<rect x="417.60" y="675.39" width="38.85" height="8.3" fill="url(#hatch)"/>
<rect x="384.30" y="675.39" width="33.30" height="8.3" fill="#d4d4d4"/>
<line x1="417.60" y1="675.39" x2="417.60" y2="683.69" stroke="#444" stroke-width="0.6"/>
<line x1="456.45" y1="675.39" x2="456.45" y2="683.69" stroke="#444" stroke-width="0.6"/>
<rect x="384.30" y="675.39" width="111.00" height="8.30" fill="none" stroke="#333" stroke-width="0.8"/>
<line x1="380.00" y1="679.54" x2="384.30" y2="679.54" stroke="#222" stroke-width="0.9"/>
<text x="377.90" y="682.54" textLength="25.86" lengthAdjust="spacingAndGlyphs" text-anchor="end">UPN07</text>
<rect x="463.11" y="687.88" width="32.19" height="8.3" fill="#5c5c5c"/>
<rect x="446.46" y="687.88" width="16.65" height="8.3" fill="url(#hatch)"/>
<rect x="384.30" y="687.88" width="62.16" height="8.3" fill="#d4d4d4"/>
<line x1="446.46" y1="687.88" x2="446.46" y2="696.18" stroke="#444" stroke-width="0.6"/>
<line x1="463.11" y1="687.88" x2="463.11" y2="696.18" stroke="#444" stroke-width="0.6"/>
<rect x="384.30" y="687.88" width="111.00" height="8.30" fill="none" stroke="#333" stroke-width="0.8"/>
<line x1="380.00" y1="692.03" x2="384.30" y2="692.03" stroke="#222" stroke-width="0.9"/>
<text x="377.90" y="695.03" textLength="25.86" lengthAdjust="spacingAndGlyphs" text-anchor="end">UPN08</text>
<rect x="397.62" y="700.37" width="97.68" height="8.3" fill="#5c5c5c"/>
<rect x="385.97" y="700.37" width="11.65" height="8.3" fill="url(#hatch)"/>
<rect x="384.30" y="700.37" width="1.67" height="8.3" fill="#d4d4d4"/>
<line x1="385.97" y1="700.37" x2="385.97" y2="708.67" stroke="#444" stroke-width="0.6"/>
<line x1="397.62" y1="700.37" x2="397.62" y2="708.67" stroke="#444" stroke-width="0.6"/>
<rect x="384.30" y="700.37" width="111.00" height="8.30" fill="none" stroke="#333" stroke-width="0.8"/>
<line x1="380.00" y1="704.52" x2="384.30" y2="704.52" stroke="#222" stroke-width="0.9"/>
<text x="377.90" y="707.52" textLength="25.86" lengthAdjust="spacingAndGlyphs" text-anchor="end">UPN09</text>
<rect x="393.74" y="712.86" width="101.56" height="8.3" fill="#5c5c5c"/>
<rect x="385.97" y="712.86" width="7.77" height="8.3" fill="url(#hatch)"/>
<rect x="384.30" y="712.86" width="1.67" height="8.3" fill="#d4d4d4"/>
<line x1="385.97" y1="712.86" x2="385.97" y2="721.16" stroke="#444" stroke-width="0.6"/>
<line x1="393.74" y1="712.86" x2="393.74" y2="721.16" stroke="#444" stroke-width="0.6"/>
<rect x="384.30" y="712.86" width="111.00" height="8.30" fill="none" stroke="#333" stroke-width="0.8"/>
<line x1="380.00" y1="717.01" x2="384.30" y2="717.01" stroke="#222" stroke-width="0.9"/>
<text x="377.90" y="720.01" textLength="25.86" lengthAdjust="spacingAndGlyphs" text-anchor="end">UPN10</text>
<rect x="474.21" y="725.35" width="21.09" height="8.3" fill="#5c5c5c"/>
<rect x="466.44" y="725.35" width="7.77" height="8.3" fill="url(#hatch)"/>
<rect x="384.30" y="725.35" width="82.14" height="8.3" fill="#d4d4d4"/>
<line x1="466.44" y1="725.35" x2="466.44" y2="733.65" stroke="#444" stroke-width="0.6"/>
<line x1="474.21" y1="725.35" x2="474.21" y2="733.65" stroke="#444" stroke-width="0.6"/>
<rect x="384.30" y="725.35" width="111.00" height="8.30" fill="none" stroke="#333" stroke-width="0.8"/>
<line x1="380.00" y1="729.50" x2="384.30" y2="729.50" stroke="#222" stroke-width="0.9"/>
<text x="377.90" y="732.50" textLength="25.27" lengthAdjust="spacingAndGlyphs" text-anchor="end">UPN11</text>
<rect x="266.70" y="776.90" width="5.90" height="5.30" fill="#d4d4d4" stroke="#555" stroke-width="0.7"/>
<text x="276.60" y="782.20">LSC-exclusive</text>
<rect x="338.10" y="776.90" width="5.90" height="5.30" fill="url(#hatch2)" stroke="#555" stroke-width="0.7"/>
<text x="347.50" y="782.20">Shared</text>
<rect x="382.50" y="776.90" width="5.90" height="5.30" fill="#5c5c5c" stroke="#444" stroke-width="0.7"/>
<text x="392.10" y="782.20">AML bulk cell-exclusive</text>
</svg>
</body></html>
